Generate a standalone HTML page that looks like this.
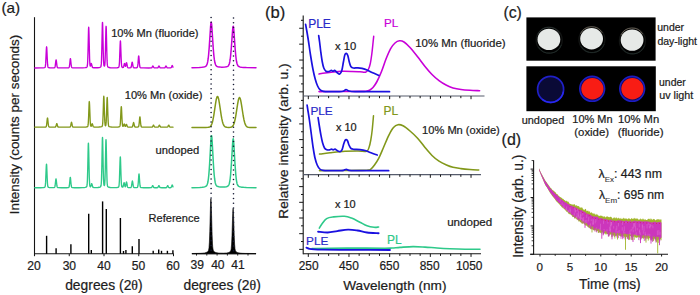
<!DOCTYPE html>
<html><head><meta charset="utf-8"><style>
html,body{margin:0;padding:0;background:#fff;width:700px;height:295px;overflow:hidden;}
svg{display:block;font-family:"Liberation Sans", sans-serif;}
</style></head><body>
<svg width="700" height="295" viewBox="0 0 700 295">
<rect width="700" height="295" fill="#fff"/>
<text id="pa" x="1.43" y="13.18" font-size="15.35" fill="#1c1c1c" stroke="#1c1c1c" stroke-width="0.22" text-anchor="start" >(a)</text>
<text id="yla" transform="translate(18.86,214.16) rotate(-90)" font-size="13.46" fill="#1c1c1c" stroke="#1c1c1c" stroke-width="0.22" >Intensity (counts per seconds)</text>
<line x1="34.5" y1="17.2" x2="34.5" y2="256" stroke="#151515" stroke-width="1.1" />
<line x1="34" y1="253.8" x2="173.8" y2="253.8" stroke="#151515" stroke-width="1.1" />
<line x1="34.5" y1="253.8" x2="34.5" y2="256.2" stroke="#151515" stroke-width="1.0" />
<text id="ta20" x="33.99" y="269.91" font-size="12.1" fill="#1c1c1c" stroke="#1c1c1c" stroke-width="0.22" text-anchor="middle" >20</text>
<line x1="69.25" y1="253.8" x2="69.25" y2="256.2" stroke="#151515" stroke-width="1.0" />
<text id="ta30" x="69.38" y="269.91" font-size="12.1" fill="#1c1c1c" stroke="#1c1c1c" stroke-width="0.22" text-anchor="middle" >30</text>
<line x1="104" y1="253.8" x2="104" y2="256.2" stroke="#151515" stroke-width="1.0" />
<text id="ta40" x="103.98" y="269.91" font-size="12.1" fill="#1c1c1c" stroke="#1c1c1c" stroke-width="0.22" text-anchor="middle" >40</text>
<line x1="138.75" y1="253.8" x2="138.75" y2="256.2" stroke="#151515" stroke-width="1.0" />
<text id="ta50" x="138.6" y="269.91" font-size="12.1" fill="#1c1c1c" stroke="#1c1c1c" stroke-width="0.22" text-anchor="middle" >50</text>
<line x1="173.5" y1="253.8" x2="173.5" y2="256.2" stroke="#151515" stroke-width="1.0" />
<text id="ta60" x="173.09" y="269.91" font-size="12.1" fill="#1c1c1c" stroke="#1c1c1c" stroke-width="0.22" text-anchor="middle" >60</text>
<text id="degL" x="103.9" y="290.3" font-size="13.85" fill="#1c1c1c" stroke="#1c1c1c" stroke-width="0.22" text-anchor="middle" >degrees (2<tspan font-family="Liberation Serif">θ</tspan>)</text>
<polyline points="34.8,67.98 40.6,67.95 43.2,67.85 44.6,67.63 44.9,67.47 45.1,67.22 45.4,66.15 45.7,63.15 46.3,50.14 46.5,47.19 46.6,46.79 46.7,47.19 46.8,48.35 47.3,59.5 47.6,64.45 47.9,66.65 48.1,67.21 48.4,67.53 48.8,67.68 49.5,67.79 51.8,67.9 54,67.83 54.4,67.76 54.7,67.58 55,66.99 55.2,66.12 55.8,61.15 56,60.02 56.1,59.87 56.2,60.02 56.4,61.15 57,66.12 57.3,67.27 57.6,67.68 57.9,67.8 58.6,67.88 61.5,67.95 66.8,67.92 68.1,67.85 68.7,67.75 68.9,67.64 69.1,67.39 69.4,66.43 69.7,64.26 70.2,59.36 70.3,58.85 70.4,58.68 70.5,58.85 70.6,59.36 71.1,64.25 71.4,66.43 71.7,67.39 72,67.7 72.7,67.85 74.5,67.93 82.7,67.88 85.3,67.7 86.1,67.52 86.7,67.26 86.9,67.08 87.1,66.75 87.3,66.03 87.5,64.42 87.7,61.16 88,51.65 88.5,30.23 88.6,28 88.7,27.22 88.8,27.99 89,33.65 89.6,58.58 89.8,62.92 89.9,64.25 90.1,65.69 90.2,65.99 90.3,66.09 90.4,66.04 90.5,65.86 91.1,63.74 91.2,63.56 91.3,63.51 91.4,63.62 91.6,64.22 92.2,66.78 92.5,67.38 92.8,67.6 93.3,67.71 94.5,67.79 97.6,67.75 99.3,67.55 99.9,67.39 100.4,67.15 100.8,66.73 101,66.18 101.1,65.7 101.3,63.9 101.5,60.25 101.8,49.63 102.3,25.7 102.4,23.2 102.5,22.33 102.6,23.18 102.7,25.65 103.2,49.44 103.5,59.97 103.8,64.56 104,65.67 104.2,66.07 104.4,66.09 104.5,65.98 104.7,65.37 104.9,63.83 105.1,60.59 105.4,51.01 105.9,29.33 106,27.08 106.1,26.3 106.2,27.11 106.3,29.39 106.8,51.22 107.1,60.91 107.3,64.23 107.5,65.88 107.8,66.82 108.2,67.21 109.1,67.54 110.4,67.73 112.7,67.84 115.5,67.84 117.1,67.75 118.1,67.58 118.6,67.36 118.9,66.95 119.2,65.6 119.5,61.78 120.1,45.21 120.3,41.45 120.4,40.93 120.5,41.44 120.6,42.92 121.1,57.12 121.4,63.42 121.7,66.21 121.9,66.92 122.1,67.23 122.3,67.37 122.7,67.49 123,67.49 123.2,67.41 123.4,67.2 123.7,66.44 124.3,63.87 124.4,63.63 124.5,63.55 124.6,63.63 124.7,63.85 125.2,65.87 125.4,66.3 125.5,66.32 125.6,66.19 125.8,65.55 126.3,63 126.4,62.72 126.5,62.63 126.6,62.74 126.8,63.47 127.4,66.69 127.6,67.26 127.8,67.56 128.1,67.73 128.7,67.81 130.1,67.82 130.7,67.71 131,67.42 131.3,66.6 131.9,63.05 132.1,62.24 132.2,62.13 132.3,62.24 132.5,63.05 133.1,66.61 133.3,67.23 133.5,67.56 133.9,67.78 134.9,67.85 136.4,67.79 136.8,67.73 137.1,67.6 137.4,67.2 137.7,65.96 138,63.16 138.5,56.85 138.6,56.2 138.7,55.97 138.8,56.2 138.9,56.86 139.4,63.17 139.7,65.97 140,67.22 140.2,67.54 140.5,67.72 141.5,67.87 143.4,67.94 148.8,67.97 151.3,67.92 151.6,67.85 151.9,67.65 152.2,67.18 152.7,66.13 152.9,65.98 153,66.02 153.2,66.3 153.8,67.52 154.2,67.85 155,67.95 157.4,67.92 157.7,67.85 158,67.65 158.3,67.18 158.8,66.13 159,65.98 159.1,66.02 159.3,66.3 159.9,67.53 160.3,67.86 161.3,67.95 164.3,67.93 164.7,67.86 165,67.65 165.3,67.18 165.8,66.13 166,65.98 166.1,66.02 166.3,66.3 166.9,67.53 167.3,67.86 168.1,67.95 170.4,67.93 170.9,67.83 171.2,67.57 171.5,66.99 172,65.67 172.2,65.49 172.3,65.54 172.5,65.89 173,67.23" fill="none" stroke="#c800d8" stroke-width="1.35" stroke-linejoin="round" stroke-linecap="round" />
<polyline points="34.8,127.19 43.9,127.14 45.4,127.05 45.8,126.97 46,126.86 46.3,126.4 46.6,125.09 47.2,119.45 47.4,118.17 47.5,117.99 47.6,118.17 47.7,118.67 48.2,123.51 48.5,125.66 48.8,126.61 49,126.86 49.3,126.99 50.4,127.11 52.6,127.15 54.7,127.12 55.4,127.01 55.7,126.75 55.9,126.36 56.5,124.15 56.7,123.65 56.8,123.58 56.9,123.65 57.1,124.15 57.7,126.36 58,126.87 58.3,127.05 59.4,127.15 63.1,127.18 68,127.16 69.8,127.06 70.2,126.88 70.5,126.37 70.8,125.22 71.3,122.65 71.4,122.38 71.5,122.28 71.6,122.38 71.7,122.65 72.2,125.22 72.5,126.37 72.8,126.87 73.1,127.04 73.9,127.12 75.7,127.16 83.5,127.12 86,127 86.8,126.88 87.3,126.73 87.7,126.41 87.9,125.96 88.1,124.95 88.3,122.9 88.6,116.92 89.1,103.44 89.2,102.04 89.3,101.55 89.4,102.03 89.6,105.59 90.2,121.28 90.5,124.88 90.6,125.46 90.8,126.09 91,126.26 91.1,126.24 91.3,126 92,123.95 92.2,123.74 92.3,123.82 92.5,124.28 93.1,126.3 93.4,126.77 93.7,126.94 94.2,127.02 95.4,127.07 98.8,127.04 100.6,126.89 101.7,126.62 102.1,126.33 102.4,125.63 102.6,124.41 102.8,121.95 103.1,114.76 103.6,98.57 103.7,96.88 103.8,96.29 103.9,96.86 104,98.53 104.5,114.6 104.8,121.7 105.1,124.78 105.3,125.5 105.5,125.7 105.7,125.52 105.9,124.84 106.2,121.89 106.5,115.07 107,99.64 107.1,98.03 107.2,97.48 107.3,98.05 107.4,99.68 107.9,115.24 108.2,122.14 108.4,124.51 108.6,125.69 108.9,126.36 109.3,126.64 110.2,126.87 111.5,127.01 113.7,127.08 116.5,127.07 118,127.01 119,126.88 119.5,126.71 119.8,126.4 120.1,125.38 120.4,122.47 121,109.89 121.2,107.03 121.3,106.64 121.4,107.03 121.5,108.15 122,118.92 122.3,123.69 122.6,125.78 122.7,126.09 122.9,126.37 123.1,126.37 123.3,126.14 124,124.25 124.2,124.06 124.4,124.28 125,126.05 125.2,126.36 125.3,126.4 125.4,126.38 125.6,126.13 126.2,124.56 126.4,124.37 126.5,124.43 126.7,124.81 127.3,126.49 127.5,126.79 127.7,126.94 128.2,127.06 129.6,127.11 131.4,127.08 132.1,126.99 132.4,126.76 132.7,126.1 133.3,123.28 133.5,122.64 133.6,122.55 133.7,122.64 133.9,123.28 134.5,126.1 134.7,126.59 134.9,126.86 135.3,127.03 136.3,127.07 137.7,127.01 138.3,126.87 138.6,126.52 138.9,125.46 139.2,123.05 139.7,117.64 139.8,117.07 139.9,116.88 140,117.07 140.1,117.64 140.6,123.06 140.9,125.46 141.2,126.53 141.4,126.81 141.7,126.96 142.7,127.09 144.7,127.15 150.1,127.17 152,127.11 152.3,127.01 152.6,126.73 153.2,125.5 153.4,125.22 153.5,125.18 153.6,125.22 153.8,125.5 154.4,126.73 154.8,127.06 155.6,127.15 157.8,127.12 158.1,127.06 158.4,126.85 158.7,126.39 159.2,125.33 159.4,125.19 159.5,125.23 159.7,125.5 160.3,126.73 160.5,126.95 160.8,127.09 162.6,127.17 167,127.14 167.4,127.07 167.7,126.86 168,126.39 168.5,125.34 168.7,125.19 168.8,125.23 169,125.51 169.6,126.74 170,127.07 170.6,127.16 173,127.19" fill="none" stroke="#82981a" stroke-width="1.35" stroke-linejoin="round" stroke-linecap="round" />
<polyline points="34.8,187.78 40.5,187.74 43.1,187.63 43.9,187.54 44.5,187.38 44.8,187.2 45,186.92 45.3,185.74 45.6,182.38 46.2,167.84 46.4,164.54 46.5,164.09 46.6,164.54 46.7,165.84 47.2,178.3 47.5,183.84 47.8,186.29 48,186.92 48.3,187.27 48.7,187.44 49.4,187.57 51.6,187.68 53.9,187.62 54.3,187.54 54.6,187.34 54.9,186.69 55.1,185.73 55.7,180.27 55.9,179.04 56,178.87 56.1,179.04 56.3,180.28 56.9,185.74 57.2,187 57.5,187.45 57.8,187.58 58.5,187.67 61.5,187.75 66.7,187.71 68,187.64 68.6,187.52 68.8,187.39 69,187.12 69.3,186.04 69.6,183.61 70.1,178.14 70.2,177.57 70.3,177.37 70.4,177.57 70.5,178.14 71,183.61 71.3,186.04 71.6,187.12 71.9,187.46 72.2,187.57 72.7,187.64 74.5,187.72 79,187.73 82.7,187.66 84.2,187.57 85.2,187.43 86,187.21 86.5,186.91 86.7,186.65 86.9,186.12 87.1,184.94 87.4,180.32 87.7,169.9 88.2,146.43 88.3,143.98 88.4,143.13 88.5,143.98 88.7,150.18 89.3,177.53 89.6,183.83 89.7,184.88 89.9,186.04 90.1,186.54 90.3,186.72 90.5,186.72 90.7,186.52 91,185.75 91.5,183.87 91.6,183.68 91.7,183.63 91.8,183.72 92,184.27 92.6,186.67 92.9,187.23 93.2,187.43 93.8,187.53 95,187.58 97.9,187.5 99.4,187.28 100,187.08 100.4,186.86 100.8,186.39 101,185.78 101.1,185.25 101.3,183.26 101.5,179.24 101.8,167.51 102.3,141.1 102.4,138.34 102.5,137.37 102.6,138.31 102.7,141.04 103.2,167.27 103.5,178.87 103.8,183.92 104,185.12 104.2,185.51 104.3,185.52 104.4,185.41 104.5,185.16 104.7,184.03 105,179.22 105.3,168.14 105.8,143.06 105.9,140.45 106,139.56 106.1,140.49 106.2,143.13 106.7,168.38 107,179.6 107.2,183.45 107.4,185.35 107.5,185.86 107.7,186.44 108.1,186.89 108.5,187.11 109,187.27 110.3,187.49 112.5,187.61 115.3,187.61 116.9,187.52 117.9,187.35 118.5,187.07 118.8,186.6 119.1,185.05 119.4,180.68 120,161.71 120.2,157.41 120.3,156.82 120.4,157.41 120.5,159.1 121,175.34 121.3,182.55 121.6,185.74 121.8,186.55 122,186.9 122.2,187.06 122.5,187.15 122.7,187.12 122.9,186.97 123.1,186.62 123.4,185.52 123.9,182.98 124,182.72 124.1,182.63 124.2,182.72 124.3,182.99 125,186.33 125.2,186.72 125.3,186.76 125.4,186.69 125.7,185.82 126.3,182.43 126.4,182.13 126.5,182.03 126.6,182.15 126.8,182.93 127.4,186.39 127.6,187 127.8,187.32 128.1,187.52 128.8,187.61 130.3,187.6 130.9,187.47 131.2,187.14 131.5,186.19 132.1,182.09 132.3,181.15 132.4,181.03 132.5,181.15 132.7,182.09 133.3,186.2 133.5,186.92 133.7,187.3 133.9,187.48 134.1,187.55 135.1,187.63 136.7,187.56 137.1,187.49 137.4,187.35 137.7,186.89 138,185.46 138.3,182.24 138.8,174.98 138.9,174.23 139,173.97 139.1,174.23 139.2,174.99 139.7,182.25 140,185.47 140.3,186.9 140.5,187.27 140.8,187.48 141.8,187.65 143.7,187.73 149.1,187.76 151.2,187.7 151.5,187.59 151.8,187.28 152.4,185.93 152.6,185.62 152.7,185.58 152.8,185.62 153,185.93 153.6,187.28 153.8,187.51 154,187.64 154.9,187.74 157.3,187.71 157.6,187.64 157.9,187.41 158.2,186.9 158.7,185.74 158.9,185.58 159,185.62 159.2,185.93 159.8,187.28 160,187.52 160.3,187.68 161.9,187.76 165.9,187.74 166.4,187.64 166.7,187.42 167,186.9 167.5,185.74 167.7,185.58 167.9,185.74 168.5,187.1 168.8,187.51 169,187.63 169.3,187.7 170.5,187.7 170.9,187.6 171.2,187.31 171.5,186.66 172,185.19 172.2,184.98 172.3,185.04 172.5,185.43 173,186.93" fill="none" stroke="#2ec98a" stroke-width="1.35" stroke-linejoin="round" stroke-linecap="round" />
<line x1="46.6" y1="253.8" x2="46.6" y2="235.8" stroke="#000" stroke-width="1.4" />
<line x1="56.1" y1="253.8" x2="56.1" y2="248.2" stroke="#000" stroke-width="1.4" />
<line x1="70.9" y1="253.8" x2="70.9" y2="244.2" stroke="#000" stroke-width="1.4" />
<line x1="88.7" y1="253.8" x2="88.7" y2="213.8" stroke="#000" stroke-width="1.4" />
<line x1="91.3" y1="253.8" x2="91.3" y2="250" stroke="#000" stroke-width="1.4" />
<line x1="102.6" y1="253.8" x2="102.6" y2="201.4" stroke="#000" stroke-width="1.4" />
<line x1="106.3" y1="253.8" x2="106.3" y2="209" stroke="#000" stroke-width="1.4" />
<line x1="120.4" y1="253.8" x2="120.4" y2="218" stroke="#000" stroke-width="1.4" />
<line x1="123.5" y1="253.8" x2="123.5" y2="251" stroke="#000" stroke-width="1.4" />
<line x1="125.9" y1="253.8" x2="125.9" y2="250" stroke="#000" stroke-width="1.4" />
<line x1="132.3" y1="253.8" x2="132.3" y2="246.3" stroke="#000" stroke-width="1.4" />
<line x1="139" y1="253.8" x2="139" y2="239" stroke="#000" stroke-width="1.4" />
<line x1="153.2" y1="253.8" x2="153.2" y2="250.8" stroke="#000" stroke-width="1.4" />
<line x1="158.7" y1="253.8" x2="158.7" y2="249.6" stroke="#000" stroke-width="1.4" />
<line x1="161.5" y1="253.8" x2="161.5" y2="250.8" stroke="#000" stroke-width="1.4" />
<line x1="167.4" y1="253.8" x2="167.4" y2="250.8" stroke="#000" stroke-width="1.4" />
<line x1="172.9" y1="253.8" x2="172.9" y2="250.2" stroke="#000" stroke-width="1.4" />
<text id="fla" x="111.23" y="37.27" font-size="11.07" fill="#1c1c1c" stroke="#1c1c1c" stroke-width="0.22" text-anchor="start" >10% Mn (fluoride)</text>
<text id="oxa" x="124.79" y="99.2" font-size="11.09" fill="#1c1c1c" stroke="#1c1c1c" stroke-width="0.22" text-anchor="start" >10% Mn (oxide)</text>
<text id="una" x="155.61" y="154.42" font-size="11.21" fill="#1c1c1c" stroke="#1c1c1c" stroke-width="0.22" text-anchor="start" >undoped</text>
<text id="ref" x="148.61" y="222.25" font-size="11.06" fill="#1c1c1c" stroke="#1c1c1c" stroke-width="0.22" text-anchor="start" >Reference</text>
<line x1="191.8" y1="253.7" x2="256" y2="253.7" stroke="#151515" stroke-width="1.1" />
<line x1="196.5" y1="253.7" x2="196.5" y2="255.6" stroke="#151515" stroke-width="0.9" />
<line x1="206.8" y1="253.7" x2="206.8" y2="255.6" stroke="#151515" stroke-width="0.9" />
<line x1="217.1" y1="253.7" x2="217.1" y2="255.6" stroke="#151515" stroke-width="0.9" />
<line x1="227.4" y1="253.7" x2="227.4" y2="255.6" stroke="#151515" stroke-width="0.9" />
<line x1="237.7" y1="253.7" x2="237.7" y2="255.6" stroke="#151515" stroke-width="0.9" />
<line x1="248" y1="253.7" x2="248" y2="255.6" stroke="#151515" stroke-width="0.9" />
<text id="tr39" x="197.2" y="268.99" font-size="12.1" fill="#1c1c1c" stroke="#1c1c1c" stroke-width="0.22" text-anchor="middle" >39</text>
<text id="tr40" x="217.86" y="268.99" font-size="12.1" fill="#1c1c1c" stroke="#1c1c1c" stroke-width="0.22" text-anchor="middle" >40</text>
<text id="tr41" x="238.06" y="268.99" font-size="12.1" fill="#1c1c1c" stroke="#1c1c1c" stroke-width="0.22" text-anchor="middle" >41</text>
<text id="degR" x="222.14" y="290.09" font-size="13.84" fill="#1c1c1c" stroke="#1c1c1c" stroke-width="0.22" text-anchor="middle" >degrees (2<tspan font-family="Liberation Serif">θ</tspan>)</text>
<polyline points="192,67.66 199.4,67.47 201.8,67.3 203.6,67.06 204.8,66.76 205.6,66.4 206.2,65.88 206.8,64.92 207.4,63.12 207.8,61.19 208.2,58.48 208.6,54.86 209.2,47.63 210.6,26.37 210.8,24.17 211,22.73 211.2,22.22 211.4,22.72 211.6,24.16 211.8,26.36 213.2,47.6 213.6,52.65 214,56.75 214.4,59.89 215,63.06 215.6,64.85 216.2,65.8 216.6,66.17 217.2,66.51 218,66.76 219,66.95 220.4,67.09 221.8,67.14 224.8,67.05 226.4,66.82 227,66.66 227.6,66.41 228,66.14 228.4,65.73 229,64.65 229.4,63.46 229.8,61.7 230.2,59.24 230.6,55.94 231.2,49.36 232.6,29.98 232.8,27.98 233,26.67 233.2,26.21 233.4,26.67 233.6,27.99 233.8,29.99 235.2,49.39 235.8,55.98 236.2,59.29 236.6,61.76 237,63.52 237.6,65.16 238.2,66.04 238.8,66.51 239.8,66.9 241.4,67.2 243.6,67.41 246.4,67.55 256,67.71" fill="none" stroke="#c800d8" stroke-width="1.5" stroke-linejoin="round" stroke-linecap="round" />
<polyline points="192,127.4 205.8,127.4 208,127.34 208.8,127.23 209.6,126.97 210.2,126.6 210.8,125.98 211.4,124.99 211.8,124.07 212.4,122.21 212.8,120.61 213.8,115.32 215.4,104.57 216,100.92 216.4,98.96 216.8,97.52 217.2,96.69 217.4,96.52 217.6,96.52 217.8,96.69 218,97.03 218.4,98.17 218.8,99.88 219.4,103.28 221.2,115.32 221.8,118.71 222.4,121.45 223,123.52 223.6,124.99 224.2,125.98 224.8,126.6 225.6,127.06 226.8,127.32 228.8,127.38 230.6,127.27 231.4,127.07 232.2,126.63 232.8,126.03 233.4,125.08 234,123.66 234.4,122.39 235.2,119.02 236,114.54 237.6,104.14 238.4,99.97 238.8,98.58 239,98.11 239.2,97.78 239.4,97.62 239.6,97.62 239.8,97.78 240.2,98.58 240.6,99.97 241,101.86 241.6,105.38 243.2,115.75 244,119.97 244.8,123.06 245.2,124.19 245.8,125.44 246.2,126.03 246.8,126.63 247.4,126.99 248.2,127.23 250,127.38 256,127.4" fill="none" stroke="#82981a" stroke-width="1.5" stroke-linejoin="round" stroke-linecap="round" />
<polyline points="192,187.66 199.8,187.44 202.2,187.25 204,186.97 205.2,186.65 206,186.24 206.6,185.67 207.2,184.59 207.6,183.36 208,181.49 208.4,178.78 208.8,175.03 209.2,170.12 209.6,164.04 211,139.12 211.2,136.87 211.4,135.67 211.6,135.66 211.8,136.87 212.2,142.12 213.4,164.01 213.8,170.08 214.2,174.99 214.6,178.73 215.2,182.45 215.4,183.29 215.8,184.51 216,184.95 216.4,185.58 216.8,185.99 217.4,186.36 218,186.59 219,186.82 220.2,186.97 221.6,187.06 223.2,187.06 224.6,186.98 226.4,186.72 227,186.55 227.6,186.28 228,186 228.4,185.58 228.8,184.92 229,184.46 229.4,183.18 229.8,181.27 230.2,178.51 230.6,174.74 231.4,163.93 232.6,143.51 232.8,141.02 233,139.38 233.2,138.8 233.4,139.38 233.6,141.02 233.8,143.52 235,163.96 235.8,174.78 236.2,178.56 236.6,181.33 237,183.26 237.2,183.97 237.6,185 238.2,185.91 238.8,186.4 239.8,186.81 241.4,187.14 243.6,187.37 246.4,187.52 256,187.7" fill="none" stroke="#2ec98a" stroke-width="1.5" stroke-linejoin="round" stroke-linecap="round" />
<polygon points="192,253.51 200.5,253.33 202.9,253.16 204.7,252.91 206.1,252.53 207.2,251.96 207.6,251.65 208,251.22 208.3,250.75 208.5,250.28 208.8,249.06 209,247.64 209.4,242.09 209.8,231.24 210.5,205.09 210.7,200.35 210.8,199.08 210.9,198.65 211,199.08 211.1,200.34 211.3,205.09 212.1,234.48 212.5,243.9 212.7,246.64 213,249.05 213.3,250.26 213.5,250.73 213.8,251.2 214.4,251.78 215.1,252.22 215.9,252.55 216.9,252.81 218.2,253.01 219.7,253.13 223.5,253.19 226.5,253 227.6,252.83 228.5,252.59 229.3,252.25 229.9,251.87 230.4,251.36 230.7,250.83 231,249.83 231.2,248.66 231.6,244.09 232,235.16 232.7,213.64 232.9,209.74 233,208.7 233.1,208.34 233.2,208.7 233.3,209.74 233.5,213.64 234.2,235.17 234.6,244.11 235,248.68 235.3,250.26 235.6,251.06 235.9,251.52 236.2,251.82 237.1,252.39 238.3,252.82 240,253.12 242.1,253.3 245.1,253.42 256,253.54 256,253.8 192,253.8" fill="#000" stroke="#000" stroke-width="0.6"/>
<circle cx="211.1" cy="17.5" r="0.82" fill="#161a34"/>
<circle cx="211.1" cy="22.25" r="0.82" fill="#161a34"/>
<circle cx="211.1" cy="27" r="0.82" fill="#161a34"/>
<circle cx="211.1" cy="31.75" r="0.82" fill="#161a34"/>
<circle cx="211.1" cy="36.5" r="0.82" fill="#161a34"/>
<circle cx="211.1" cy="41.25" r="0.82" fill="#161a34"/>
<circle cx="211.1" cy="46" r="0.82" fill="#161a34"/>
<circle cx="211.1" cy="50.75" r="0.82" fill="#161a34"/>
<circle cx="211.1" cy="55.5" r="0.82" fill="#161a34"/>
<circle cx="211.1" cy="60.25" r="0.82" fill="#161a34"/>
<circle cx="211.1" cy="65" r="0.82" fill="#161a34"/>
<circle cx="211.1" cy="69.75" r="0.82" fill="#161a34"/>
<circle cx="211.1" cy="74.5" r="0.82" fill="#161a34"/>
<circle cx="211.1" cy="79.25" r="0.82" fill="#161a34"/>
<circle cx="211.1" cy="84" r="0.82" fill="#161a34"/>
<circle cx="211.1" cy="88.75" r="0.82" fill="#161a34"/>
<circle cx="211.1" cy="93.5" r="0.82" fill="#161a34"/>
<circle cx="211.1" cy="98.25" r="0.82" fill="#161a34"/>
<circle cx="211.1" cy="103" r="0.82" fill="#161a34"/>
<circle cx="211.1" cy="107.75" r="0.82" fill="#161a34"/>
<circle cx="211.1" cy="112.5" r="0.82" fill="#161a34"/>
<circle cx="211.1" cy="117.25" r="0.82" fill="#161a34"/>
<circle cx="211.1" cy="122" r="0.82" fill="#161a34"/>
<circle cx="211.1" cy="126.75" r="0.82" fill="#161a34"/>
<circle cx="211.1" cy="131.5" r="0.82" fill="#161a34"/>
<circle cx="211.1" cy="136.25" r="0.82" fill="#161a34"/>
<circle cx="211.1" cy="141" r="0.82" fill="#161a34"/>
<circle cx="211.1" cy="145.75" r="0.82" fill="#161a34"/>
<circle cx="211.1" cy="150.5" r="0.82" fill="#161a34"/>
<circle cx="211.1" cy="155.25" r="0.82" fill="#161a34"/>
<circle cx="211.1" cy="160" r="0.82" fill="#161a34"/>
<circle cx="211.1" cy="164.75" r="0.82" fill="#161a34"/>
<circle cx="211.1" cy="169.5" r="0.82" fill="#161a34"/>
<circle cx="211.1" cy="174.25" r="0.82" fill="#161a34"/>
<circle cx="211.1" cy="179" r="0.82" fill="#161a34"/>
<circle cx="211.1" cy="183.75" r="0.82" fill="#161a34"/>
<circle cx="211.1" cy="188.5" r="0.82" fill="#161a34"/>
<circle cx="211.1" cy="193.25" r="0.82" fill="#161a34"/>
<circle cx="211.1" cy="198" r="0.82" fill="#161a34"/>
<circle cx="211.1" cy="202.75" r="0.82" fill="#161a34"/>
<circle cx="211.1" cy="207.5" r="0.82" fill="#161a34"/>
<circle cx="211.1" cy="212.25" r="0.82" fill="#161a34"/>
<circle cx="211.1" cy="217" r="0.82" fill="#161a34"/>
<circle cx="211.1" cy="221.75" r="0.82" fill="#161a34"/>
<circle cx="211.1" cy="226.5" r="0.82" fill="#161a34"/>
<circle cx="211.1" cy="231.25" r="0.82" fill="#161a34"/>
<circle cx="211.1" cy="236" r="0.82" fill="#161a34"/>
<circle cx="211.1" cy="240.75" r="0.82" fill="#161a34"/>
<circle cx="211.1" cy="245.5" r="0.82" fill="#161a34"/>
<circle cx="211.1" cy="250.25" r="0.82" fill="#161a34"/>
<circle cx="233.5" cy="18" r="0.82" fill="#161a34"/>
<circle cx="233.5" cy="22.75" r="0.82" fill="#161a34"/>
<circle cx="233.5" cy="27.5" r="0.82" fill="#161a34"/>
<circle cx="233.5" cy="32.25" r="0.82" fill="#161a34"/>
<circle cx="233.5" cy="37" r="0.82" fill="#161a34"/>
<circle cx="233.5" cy="41.75" r="0.82" fill="#161a34"/>
<circle cx="233.5" cy="46.5" r="0.82" fill="#161a34"/>
<circle cx="233.5" cy="51.25" r="0.82" fill="#161a34"/>
<circle cx="233.5" cy="56" r="0.82" fill="#161a34"/>
<circle cx="233.5" cy="60.75" r="0.82" fill="#161a34"/>
<circle cx="233.5" cy="65.5" r="0.82" fill="#161a34"/>
<circle cx="233.5" cy="70.25" r="0.82" fill="#161a34"/>
<circle cx="233.5" cy="75" r="0.82" fill="#161a34"/>
<circle cx="233.5" cy="79.75" r="0.82" fill="#161a34"/>
<circle cx="233.5" cy="84.5" r="0.82" fill="#161a34"/>
<circle cx="233.5" cy="89.25" r="0.82" fill="#161a34"/>
<circle cx="233.5" cy="94" r="0.82" fill="#161a34"/>
<circle cx="233.5" cy="98.75" r="0.82" fill="#161a34"/>
<circle cx="233.5" cy="103.5" r="0.82" fill="#161a34"/>
<circle cx="233.5" cy="108.25" r="0.82" fill="#161a34"/>
<circle cx="233.5" cy="113" r="0.82" fill="#161a34"/>
<circle cx="233.5" cy="117.75" r="0.82" fill="#161a34"/>
<circle cx="233.5" cy="122.5" r="0.82" fill="#161a34"/>
<circle cx="233.5" cy="127.25" r="0.82" fill="#161a34"/>
<circle cx="233.5" cy="132" r="0.82" fill="#161a34"/>
<circle cx="233.5" cy="136.75" r="0.82" fill="#161a34"/>
<circle cx="233.5" cy="141.5" r="0.82" fill="#161a34"/>
<circle cx="233.5" cy="146.25" r="0.82" fill="#161a34"/>
<circle cx="233.5" cy="151" r="0.82" fill="#161a34"/>
<circle cx="233.5" cy="155.75" r="0.82" fill="#161a34"/>
<circle cx="233.5" cy="160.5" r="0.82" fill="#161a34"/>
<circle cx="233.5" cy="165.25" r="0.82" fill="#161a34"/>
<circle cx="233.5" cy="170" r="0.82" fill="#161a34"/>
<circle cx="233.5" cy="174.75" r="0.82" fill="#161a34"/>
<circle cx="233.5" cy="179.5" r="0.82" fill="#161a34"/>
<circle cx="233.5" cy="184.25" r="0.82" fill="#161a34"/>
<circle cx="233.5" cy="189" r="0.82" fill="#161a34"/>
<circle cx="233.5" cy="193.75" r="0.82" fill="#161a34"/>
<circle cx="233.5" cy="198.5" r="0.82" fill="#161a34"/>
<circle cx="233.5" cy="203.25" r="0.82" fill="#161a34"/>
<circle cx="233.5" cy="208" r="0.82" fill="#161a34"/>
<circle cx="233.5" cy="212.75" r="0.82" fill="#161a34"/>
<circle cx="233.5" cy="217.5" r="0.82" fill="#161a34"/>
<circle cx="233.5" cy="222.25" r="0.82" fill="#161a34"/>
<circle cx="233.5" cy="227" r="0.82" fill="#161a34"/>
<circle cx="233.5" cy="231.75" r="0.82" fill="#161a34"/>
<circle cx="233.5" cy="236.5" r="0.82" fill="#161a34"/>
<circle cx="233.5" cy="241.25" r="0.82" fill="#161a34"/>
<circle cx="233.5" cy="246" r="0.82" fill="#161a34"/>
<circle cx="233.5" cy="250.75" r="0.82" fill="#161a34"/>
<text id="pb" x="264.95" y="17.67" font-size="16.58" fill="#1c1c1c" stroke="#1c1c1c" stroke-width="0.22" text-anchor="start" >(b)</text>
<text id="ylb" transform="translate(288.4,218.75) rotate(-90)" font-size="13.69" fill="#1c1c1c" stroke="#1c1c1c" stroke-width="0.22" >Relative intensity (arb. u.)</text>
<line x1="303.2" y1="15.5" x2="303.2" y2="254.2" stroke="#151515" stroke-width="1.1" />
<line x1="301" y1="20.3" x2="303.2" y2="20.3" stroke="#151515" stroke-width="1.0" />
<line x1="299.2" y1="28.25" x2="303.2" y2="28.25" stroke="#151515" stroke-width="1.0" />
<line x1="301" y1="36.2" x2="303.2" y2="36.2" stroke="#151515" stroke-width="1.0" />
<line x1="299.2" y1="44.15" x2="303.2" y2="44.15" stroke="#151515" stroke-width="1.0" />
<line x1="301" y1="52.1" x2="303.2" y2="52.1" stroke="#151515" stroke-width="1.0" />
<line x1="299.2" y1="60.05" x2="303.2" y2="60.05" stroke="#151515" stroke-width="1.0" />
<line x1="301" y1="68" x2="303.2" y2="68" stroke="#151515" stroke-width="1.0" />
<line x1="299.2" y1="75.95" x2="303.2" y2="75.95" stroke="#151515" stroke-width="1.0" />
<line x1="301" y1="83.9" x2="303.2" y2="83.9" stroke="#151515" stroke-width="1.0" />
<line x1="299.2" y1="91.85" x2="303.2" y2="91.85" stroke="#151515" stroke-width="1.0" />
<line x1="301" y1="100.4" x2="303.2" y2="100.4" stroke="#151515" stroke-width="1.0" />
<line x1="299.2" y1="108.24" x2="303.2" y2="108.24" stroke="#151515" stroke-width="1.0" />
<line x1="301" y1="116.08" x2="303.2" y2="116.08" stroke="#151515" stroke-width="1.0" />
<line x1="299.2" y1="123.92" x2="303.2" y2="123.92" stroke="#151515" stroke-width="1.0" />
<line x1="301" y1="131.76" x2="303.2" y2="131.76" stroke="#151515" stroke-width="1.0" />
<line x1="299.2" y1="139.6" x2="303.2" y2="139.6" stroke="#151515" stroke-width="1.0" />
<line x1="301" y1="147.44" x2="303.2" y2="147.44" stroke="#151515" stroke-width="1.0" />
<line x1="299.2" y1="155.28" x2="303.2" y2="155.28" stroke="#151515" stroke-width="1.0" />
<line x1="301" y1="163.12" x2="303.2" y2="163.12" stroke="#151515" stroke-width="1.0" />
<line x1="299.2" y1="170.96" x2="303.2" y2="170.96" stroke="#151515" stroke-width="1.0" />
<line x1="301" y1="178.8" x2="303.2" y2="178.8" stroke="#151515" stroke-width="1.0" />
<line x1="299.2" y1="186.64" x2="303.2" y2="186.64" stroke="#151515" stroke-width="1.0" />
<line x1="301" y1="194.48" x2="303.2" y2="194.48" stroke="#151515" stroke-width="1.0" />
<line x1="299.2" y1="202.32" x2="303.2" y2="202.32" stroke="#151515" stroke-width="1.0" />
<line x1="301" y1="210.16" x2="303.2" y2="210.16" stroke="#151515" stroke-width="1.0" />
<line x1="299.2" y1="218" x2="303.2" y2="218" stroke="#151515" stroke-width="1.0" />
<line x1="301" y1="225.84" x2="303.2" y2="225.84" stroke="#151515" stroke-width="1.0" />
<line x1="299.2" y1="233.68" x2="303.2" y2="233.68" stroke="#151515" stroke-width="1.0" />
<line x1="301" y1="241.52" x2="303.2" y2="241.52" stroke="#151515" stroke-width="1.0" />
<line x1="299.2" y1="249.36" x2="303.2" y2="249.36" stroke="#151515" stroke-width="1.0" />
<line x1="303.2" y1="96" x2="484.5" y2="96" stroke="#565c6c" stroke-width="1.1" />
<line x1="308.3" y1="96" x2="308.3" y2="99.2" stroke="#151515" stroke-width="1.0" />
<line x1="318.47" y1="96" x2="318.47" y2="98.2" stroke="#151515" stroke-width="1.0" />
<line x1="328.64" y1="96" x2="328.64" y2="98.2" stroke="#151515" stroke-width="1.0" />
<line x1="338.81" y1="96" x2="338.81" y2="98.2" stroke="#151515" stroke-width="1.0" />
<line x1="348.98" y1="96" x2="348.98" y2="99.2" stroke="#151515" stroke-width="1.0" />
<line x1="359.15" y1="96" x2="359.15" y2="98.2" stroke="#151515" stroke-width="1.0" />
<line x1="369.32" y1="96" x2="369.32" y2="98.2" stroke="#151515" stroke-width="1.0" />
<line x1="379.49" y1="96" x2="379.49" y2="98.2" stroke="#151515" stroke-width="1.0" />
<line x1="389.66" y1="96" x2="389.66" y2="99.2" stroke="#151515" stroke-width="1.0" />
<line x1="399.83" y1="96" x2="399.83" y2="98.2" stroke="#151515" stroke-width="1.0" />
<line x1="410" y1="96" x2="410" y2="98.2" stroke="#151515" stroke-width="1.0" />
<line x1="420.17" y1="96" x2="420.17" y2="98.2" stroke="#151515" stroke-width="1.0" />
<line x1="430.34" y1="96" x2="430.34" y2="99.2" stroke="#151515" stroke-width="1.0" />
<line x1="440.51" y1="96" x2="440.51" y2="98.2" stroke="#151515" stroke-width="1.0" />
<line x1="450.68" y1="96" x2="450.68" y2="98.2" stroke="#151515" stroke-width="1.0" />
<line x1="460.85" y1="96" x2="460.85" y2="98.2" stroke="#151515" stroke-width="1.0" />
<line x1="471.02" y1="96" x2="471.02" y2="99.2" stroke="#151515" stroke-width="1.0" />
<line x1="303.2" y1="174.6" x2="481" y2="174.6" stroke="#565c6c" stroke-width="1.1" />
<line x1="308.3" y1="174.6" x2="308.3" y2="177.8" stroke="#151515" stroke-width="1.0" />
<line x1="318.47" y1="174.6" x2="318.47" y2="176.8" stroke="#151515" stroke-width="1.0" />
<line x1="328.64" y1="174.6" x2="328.64" y2="176.8" stroke="#151515" stroke-width="1.0" />
<line x1="338.81" y1="174.6" x2="338.81" y2="176.8" stroke="#151515" stroke-width="1.0" />
<line x1="348.98" y1="174.6" x2="348.98" y2="177.8" stroke="#151515" stroke-width="1.0" />
<line x1="359.15" y1="174.6" x2="359.15" y2="176.8" stroke="#151515" stroke-width="1.0" />
<line x1="369.32" y1="174.6" x2="369.32" y2="176.8" stroke="#151515" stroke-width="1.0" />
<line x1="379.49" y1="174.6" x2="379.49" y2="176.8" stroke="#151515" stroke-width="1.0" />
<line x1="389.66" y1="174.6" x2="389.66" y2="177.8" stroke="#151515" stroke-width="1.0" />
<line x1="399.83" y1="174.6" x2="399.83" y2="176.8" stroke="#151515" stroke-width="1.0" />
<line x1="410" y1="174.6" x2="410" y2="176.8" stroke="#151515" stroke-width="1.0" />
<line x1="420.17" y1="174.6" x2="420.17" y2="176.8" stroke="#151515" stroke-width="1.0" />
<line x1="430.34" y1="174.6" x2="430.34" y2="177.8" stroke="#151515" stroke-width="1.0" />
<line x1="440.51" y1="174.6" x2="440.51" y2="176.8" stroke="#151515" stroke-width="1.0" />
<line x1="450.68" y1="174.6" x2="450.68" y2="176.8" stroke="#151515" stroke-width="1.0" />
<line x1="460.85" y1="174.6" x2="460.85" y2="176.8" stroke="#151515" stroke-width="1.0" />
<line x1="471.02" y1="174.6" x2="471.02" y2="177.8" stroke="#151515" stroke-width="1.0" />
<line x1="303.2" y1="253.7" x2="481" y2="253.7" stroke="#151515" stroke-width="1.1" />
<line x1="308.3" y1="253.7" x2="308.3" y2="256.9" stroke="#151515" stroke-width="1.0" />
<line x1="318.47" y1="253.7" x2="318.47" y2="255.9" stroke="#151515" stroke-width="1.0" />
<line x1="328.64" y1="253.7" x2="328.64" y2="255.9" stroke="#151515" stroke-width="1.0" />
<line x1="338.81" y1="253.7" x2="338.81" y2="255.9" stroke="#151515" stroke-width="1.0" />
<line x1="348.98" y1="253.7" x2="348.98" y2="256.9" stroke="#151515" stroke-width="1.0" />
<line x1="359.15" y1="253.7" x2="359.15" y2="255.9" stroke="#151515" stroke-width="1.0" />
<line x1="369.32" y1="253.7" x2="369.32" y2="255.9" stroke="#151515" stroke-width="1.0" />
<line x1="379.49" y1="253.7" x2="379.49" y2="255.9" stroke="#151515" stroke-width="1.0" />
<line x1="389.66" y1="253.7" x2="389.66" y2="256.9" stroke="#151515" stroke-width="1.0" />
<line x1="399.83" y1="253.7" x2="399.83" y2="255.9" stroke="#151515" stroke-width="1.0" />
<line x1="410" y1="253.7" x2="410" y2="255.9" stroke="#151515" stroke-width="1.0" />
<line x1="420.17" y1="253.7" x2="420.17" y2="255.9" stroke="#151515" stroke-width="1.0" />
<line x1="430.34" y1="253.7" x2="430.34" y2="256.9" stroke="#151515" stroke-width="1.0" />
<line x1="440.51" y1="253.7" x2="440.51" y2="255.9" stroke="#151515" stroke-width="1.0" />
<line x1="450.68" y1="253.7" x2="450.68" y2="255.9" stroke="#151515" stroke-width="1.0" />
<line x1="460.85" y1="253.7" x2="460.85" y2="255.9" stroke="#151515" stroke-width="1.0" />
<line x1="471.02" y1="253.7" x2="471.02" y2="256.9" stroke="#151515" stroke-width="1.0" />
<text id="tb250" x="308.59" y="270.28" font-size="11.9" fill="#1c1c1c" stroke="#1c1c1c" stroke-width="0.22" text-anchor="middle" >250</text>
<text id="tb450" x="348.85" y="270.28" font-size="11.9" fill="#1c1c1c" stroke="#1c1c1c" stroke-width="0.22" text-anchor="middle" >450</text>
<text id="tb650" x="389.36" y="270.28" font-size="11.9" fill="#1c1c1c" stroke="#1c1c1c" stroke-width="0.22" text-anchor="middle" >650</text>
<text id="tb850" x="429.6" y="270.28" font-size="11.9" fill="#1c1c1c" stroke="#1c1c1c" stroke-width="0.22" text-anchor="middle" >850</text>
<text id="tb1050" x="469.18" y="270.28" font-size="11.9" fill="#1c1c1c" stroke="#1c1c1c" stroke-width="0.22" text-anchor="middle" >1050</text>
<text id="wave" x="394.89" y="289.62" font-size="13.64" fill="#1c1c1c" stroke="#1c1c1c" stroke-width="0.22" text-anchor="middle" >Wavelength (nm)</text>
<path d="M319,91.6 C322.5,91.58 333.17,91.53 340,91.5 C346.83,91.47 355.67,91.45 360,91.4 C364.33,91.35 364.42,91.4 366,91.2 C367.58,91 368.33,90.82 369.5,90.2 C370.67,89.58 371.75,88.95 373,87.5 C374.25,86.05 375.58,84.17 377,81.5 C378.42,78.83 380,75.25 381.5,71.5 C383,67.75 384.5,62.78 386,59 C387.5,55.22 389,51.47 390.5,48.8 C392,46.13 393.5,44.33 395,43 C396.5,41.67 398,40.97 399.5,40.8 C401,40.63 402.25,40.88 404,42 C405.75,43.12 407.73,45.03 410,47.5 C412.27,49.97 415.1,53.63 417.6,56.8 C420.1,59.97 422.6,63.55 425,66.5 C427.4,69.45 429.67,72.15 432,74.5 C434.33,76.85 436.58,78.8 439,80.6 C441.42,82.4 444.17,84.08 446.5,85.3 C448.83,86.52 450.58,87.2 453,87.9 C455.42,88.6 458.17,89.1 461,89.5 C463.83,89.9 466.9,90.1 470,90.3 C473.1,90.5 478,90.63 479.6,90.7" fill="none" stroke="#c800d8" stroke-width="1.6" stroke-linejoin="round" stroke-linecap="round" />
<path d="M319,74 C320,73.83 322.67,73.33 325,73 C327.33,72.67 330.17,72.28 333,72 C335.83,71.72 338.83,71.4 342,71.3 C345.17,71.2 349,71.32 352,71.4 C355,71.48 357.75,71.67 360,71.8 C362.25,71.93 364.12,72.58 365.5,72.2 C366.88,71.82 367.5,70.95 368.3,69.5 C369.1,68.05 369.72,66.08 370.3,63.5 C370.88,60.92 371.37,57.25 371.8,54 C372.23,50.75 372.58,46.95 372.9,44 C373.22,41.05 373.57,37.58 373.7,36.3" fill="none" stroke="#c800d8" stroke-width="1.5" stroke-linejoin="round" stroke-linecap="round" />
<path d="M305.6,24.3 C305.8,25.42 306.35,28.38 306.8,31 C307.25,33.62 307.68,36 308.3,40 C308.92,44 309.73,50.17 310.5,55 C311.27,59.83 312.12,65 312.9,69 C313.68,73 314.42,76.17 315.2,79 C315.98,81.83 316.77,84.18 317.6,86 C318.43,87.82 319.22,89.02 320.2,89.9 C321.18,90.78 321.87,91.02 323.5,91.3 C325.13,91.58 327.58,91.55 330,91.6 C332.42,91.65 335.83,91.65 338,91.6 C340.17,91.55 341.67,91.63 343,91.3 C344.33,90.97 345,89.65 346,89.6 C347,89.55 347.5,90.67 349,91 C350.5,91.33 351.17,91.48 355,91.6 C358.83,91.72 366.25,91.68 372,91.7 C377.75,91.72 386.58,91.7 389.5,91.7" fill="none" stroke="#1a10e0" stroke-width="1.7" stroke-linejoin="round" stroke-linecap="round" />
<path d="M318.7,35.7 C318.85,36.75 319.25,39.28 319.6,42 C319.95,44.72 320.37,48.75 320.8,52 C321.23,55.25 321.7,58.83 322.2,61.5 C322.7,64.17 323.17,66.38 323.8,68 C324.43,69.62 325.13,70.62 326,71.2 C326.87,71.78 328.12,71.63 329,71.5 C329.88,71.37 330.63,70.45 331.3,70.4 C331.97,70.35 332.43,71.2 333,71.2 C333.57,71.2 334.03,70.18 334.7,70.4 C335.37,70.62 336.15,71.9 337,72.5 C337.85,73.1 339,74.33 339.8,74 C340.6,73.67 341.2,72.5 341.8,70.5 C342.4,68.5 342.9,64.58 343.4,62 C343.9,59.42 344.32,56.45 344.8,55 C345.28,53.55 345.8,53.22 346.3,53.3 C346.8,53.38 347.3,54.05 347.8,55.5 C348.3,56.95 348.77,60.12 349.3,62 C349.83,63.88 350.3,65.8 351,66.8 C351.7,67.8 352.33,67.83 353.5,68 C354.67,68.17 356.58,67.73 358,67.8 C359.42,67.87 360.5,68.03 362,68.4 C363.5,68.77 365.33,69.3 367,70 C368.67,70.7 370.03,71.7 372,72.6 C373.97,73.5 377.67,74.93 378.8,75.4" fill="none" stroke="#1a10e0" stroke-width="1.7" stroke-linejoin="round" stroke-linecap="round" />
<path d="M319.5,170.6 C322.92,170.58 333.25,170.53 340,170.5 C346.75,170.47 355.5,170.45 360,170.4 C364.5,170.35 365.23,170.37 367,170.2 C368.77,170.03 369.35,170.27 370.6,169.4 C371.85,168.53 373.15,166.83 374.5,165 C375.85,163.17 377.2,161.32 378.7,158.4 C380.2,155.48 381.82,151.35 383.5,147.5 C385.18,143.65 387.13,138.63 388.8,135.3 C390.47,131.97 391.97,129.27 393.5,127.5 C395.03,125.73 396.42,124.98 398,124.7 C399.58,124.42 401,124.75 403,125.8 C405,126.85 407.57,128.93 410,131 C412.43,133.07 415.1,135.45 417.6,138.2 C420.1,140.95 422.6,144.62 425,147.5 C427.4,150.38 429.67,153.22 432,155.5 C434.33,157.78 436.58,159.62 439,161.2 C441.42,162.78 444.17,163.98 446.5,165 C448.83,166.02 450.6,166.7 453,167.3 C455.4,167.9 458.07,168.23 460.9,168.6 C463.73,168.97 467.03,169.27 470,169.5 C472.97,169.73 477.25,169.92 478.7,170" fill="none" stroke="#82981a" stroke-width="1.6" stroke-linejoin="round" stroke-linecap="round" />
<path d="M319.5,154.1 C321.25,153.88 325.75,153.27 330,152.8 C334.25,152.33 340.33,151.6 345,151.3 C349.67,151 354.42,151.02 358,151 C361.58,150.98 364.67,151.78 366.5,151.2 C368.33,150.62 368.28,149.37 369,147.5 C369.72,145.63 370.27,142.92 370.8,140 C371.33,137.08 371.75,134.03 372.2,130 C372.65,125.97 373.28,118.17 373.5,115.8" fill="none" stroke="#82981a" stroke-width="1.5" stroke-linejoin="round" stroke-linecap="round" />
<path d="M307.1,105.1 C307.25,106.08 307.62,108.52 308,111 C308.38,113.48 308.85,116.17 309.4,120 C309.95,123.83 310.67,129.33 311.3,134 C311.93,138.67 312.58,144 313.2,148 C313.82,152 314.33,155.17 315,158 C315.67,160.83 316.4,163.17 317.2,165 C318,166.83 318.83,168.1 319.8,169 C320.77,169.9 321.13,170.13 323,170.4 C324.87,170.67 328.17,170.57 331,170.6 C333.83,170.63 337.92,170.63 340,170.6 C342.08,170.57 342.45,170.62 343.5,170.4 C344.55,170.18 345.38,169.32 346.3,169.3 C347.22,169.28 347.55,170.08 349,170.3 C350.45,170.52 351.17,170.53 355,170.6 C358.83,170.67 366.38,170.68 372,170.7 C377.62,170.72 385.92,170.7 388.7,170.7" fill="none" stroke="#1a10e0" stroke-width="1.7" stroke-linejoin="round" stroke-linecap="round" />
<path d="M318.1,117.5 C318.28,118.75 318.75,122.17 319.2,125 C319.65,127.83 320.25,131.58 320.8,134.5 C321.35,137.42 321.88,140.25 322.5,142.5 C323.12,144.75 323.78,146.78 324.5,148 C325.22,149.22 325.97,149.48 326.8,149.8 C327.63,150.12 328.72,150 329.5,149.9 C330.28,149.8 330.88,149.2 331.5,149.2 C332.12,149.2 332.62,149.9 333.2,149.9 C333.78,149.9 334.32,149.08 335,149.2 C335.68,149.32 336.47,150.2 337.3,150.6 C338.13,151 339.22,151.73 340,151.6 C340.78,151.47 341.38,151.07 342,149.8 C342.62,148.53 343.2,145.55 343.7,144 C344.2,142.45 344.57,141.22 345,140.5 C345.43,139.78 345.87,139.62 346.3,139.7 C346.73,139.78 347.12,140.03 347.6,141 C348.08,141.97 348.63,144.25 349.2,145.5 C349.77,146.75 350.2,147.87 351,148.5 C351.8,149.13 352.5,149.12 354,149.3 C355.5,149.48 358,149.35 360,149.6 C362,149.85 364.17,150.27 366,150.8 C367.83,151.33 369.13,152.1 371,152.8 C372.87,153.5 376.17,154.63 377.2,155" fill="none" stroke="#1a10e0" stroke-width="1.7" stroke-linejoin="round" stroke-linecap="round" />
<path d="M312,248.6 C315,248.53 322,248.28 330,248.2 C338,248.12 350.83,248.1 360,248.1 C369.17,248.1 379.67,248.22 385,248.2 C390.33,248.18 389.5,248.13 392,248 C394.5,247.87 396.5,247.63 400,247.4 C403.5,247.17 408.83,246.65 413,246.6 C417.17,246.55 421,246.87 425,247.1 C429,247.33 432.83,247.73 437,248 C441.17,248.27 445.33,248.5 450,248.7 C454.67,248.9 460,249.1 465,249.2 C470,249.3 477.5,249.28 480,249.3" fill="none" stroke="#2ec98a" stroke-width="1.6" stroke-linejoin="round" stroke-linecap="round" />
<path d="M306.4,247.6 C306.92,247.8 308.18,248.5 309.5,248.8 C310.82,249.1 312.22,249.25 314.3,249.4 C316.38,249.55 317.72,249.63 322,249.7 C326.28,249.77 332,249.77 340,249.8 C348,249.83 361.67,249.87 370,249.9 C378.33,249.93 386.67,249.98 390,250" fill="none" stroke="#1a10e0" stroke-width="1.8" stroke-linejoin="round" stroke-linecap="round" />
<path d="M319.3,228.1 C319.73,227.42 320.68,225.58 321.9,224 C323.12,222.42 324.63,219.78 326.6,218.6 C328.57,217.42 330.73,217.28 333.7,216.9 C336.67,216.52 341.43,216.1 344.4,216.3 C347.37,216.5 348.92,217.12 351.5,218.1 C354.08,219.08 357.32,220.92 359.9,222.2 C362.48,223.48 364.63,224.95 367,225.8 C369.37,226.65 372.17,227.1 374.1,227.3 C376.03,227.5 377.85,227.05 378.6,227" fill="none" stroke="#2ec98a" stroke-width="1.6" stroke-linejoin="round" stroke-linecap="round" />
<path d="M318.1,231.7 C319.72,231.83 324.6,232.6 327.8,232.5 C331,232.4 333.93,231.58 337.3,231.1 C340.67,230.62 344.63,229.7 348,229.6 C351.37,229.5 354.33,230.02 357.5,230.5 C360.67,230.98 363.48,232.05 367,232.5 C370.52,232.95 376.67,233.08 378.6,233.2" fill="none" stroke="#1a10e0" stroke-width="1.9" stroke-linejoin="round" stroke-linecap="round" />
<text id="ple1" x="308.13" y="28.29" font-size="12.04" fill="#2a2ac8" stroke="#2a2ac8" stroke-width="0.22" text-anchor="start" >PLE</text>
<text id="pl1" x="384.08" y="26.74" font-size="11.58" fill="#c800d8" stroke="#c800d8" stroke-width="0.22" text-anchor="start" >PL</text>
<text id="x1" x="334.98" y="49.92" font-size="11.24" fill="#1c1c1c" stroke="#1c1c1c" stroke-width="0.22" text-anchor="start" >x 10</text>
<text id="flb" x="415.14" y="47.21" font-size="11.47" fill="#1c1c1c" stroke="#1c1c1c" stroke-width="0.22" text-anchor="start" >10% Mn (fluoride)</text>
<text id="ple2" x="310.45" y="115.18" font-size="11.81" fill="#2a2ac8" stroke="#2a2ac8" stroke-width="0.22" text-anchor="start" >PLE</text>
<text id="pl2" x="383.43" y="114.57" font-size="11.99" fill="#82981a" stroke="#82981a" stroke-width="0.22" text-anchor="start" >PL</text>
<text id="x2" x="335.91" y="130.74" font-size="11.01" fill="#1c1c1c" stroke="#1c1c1c" stroke-width="0.22" text-anchor="start" >x 10</text>
<text id="oxb" x="422.1" y="134.29" font-size="11.1" fill="#1c1c1c" stroke="#1c1c1c" stroke-width="0.22" text-anchor="start" >10% Mn (oxide)</text>
<text id="x3" x="334.94" y="208.39" font-size="10.99" fill="#1c1c1c" stroke="#1c1c1c" stroke-width="0.22" text-anchor="start" >x 10</text>
<text id="unb" x="447.17" y="226.11" font-size="11.58" fill="#1c1c1c" stroke="#1c1c1c" stroke-width="0.22" text-anchor="start" >undoped</text>
<text id="ple3" x="306.11" y="245.01" font-size="11.74" fill="#2a2ac8" stroke="#2a2ac8" stroke-width="0.22" text-anchor="start" >PLE</text>
<text id="pl3" x="387.03" y="243.6" font-size="11.96" fill="#2ec98a" stroke="#2ec98a" stroke-width="0.22" text-anchor="start" >PL</text>
<text id="pc" x="503.43" y="17.65" font-size="15.8" fill="#1c1c1c" stroke="#1c1c1c" stroke-width="0.22" text-anchor="start" >(c)</text>
<rect x="526.4" y="17.4" width="129.2" height="43.3" fill="#000"/>
<rect x="526.4" y="66.3" width="129.4" height="44.9" fill="#000"/>
<circle cx="549.1999999999999" cy="40.199999999999996" r="13.0" fill="none" stroke="#121413" stroke-width="1.3"/>
<path d="M537.75,34.4 A12.3,12.3 0 0 1 559.55,33.45" fill="none" stroke="#2e3634" stroke-width="0.9"/>
<path d="M561.43,44.78 A12.8,12.8 0 0 1 538.31,46.8" fill="none" stroke="#1f2927" stroke-width="1.0"/>
<ellipse cx="548.9" cy="39.4" rx="11.4" ry="10.7" fill="#e6e9e7"/>
<circle cx="591.9" cy="39.599999999999994" r="13.0" fill="none" stroke="#121413" stroke-width="1.3"/>
<path d="M580.45,33.8 A12.3,12.3 0 0 1 602.25,32.85" fill="none" stroke="#6a6258" stroke-width="0.9"/>
<path d="M604.13,44.18 A12.8,12.8 0 0 1 581.01,46.2" fill="none" stroke="#1f2927" stroke-width="1.0"/>
<ellipse cx="591.6" cy="38.8" rx="11.4" ry="10.7" fill="#e6e9e7"/>
<circle cx="632.4" cy="40.9" r="13.0" fill="none" stroke="#121413" stroke-width="1.3"/>
<path d="M620.95,35.1 A12.3,12.3 0 0 1 642.75,34.15" fill="none" stroke="#6a6258" stroke-width="0.9"/>
<path d="M644.63,45.48 A12.8,12.8 0 0 1 621.51,47.5" fill="none" stroke="#1f2927" stroke-width="1.0"/>
<ellipse cx="632.1" cy="40.1" rx="11.4" ry="10.7" fill="#e6e9e7"/>
<circle cx="550.6" cy="89.4" r="13.0" fill="#0a0a36" stroke="#2020c8" stroke-width="1.7"/>
<path d="M563.4,91.66 A13.0,13.0 0 0 1 542.24,99.36" fill="none" stroke="#2828f0" stroke-width="1.4"/>
<circle cx="592.2" cy="88.8" r="12.4" fill="#0c0c60" stroke="#1c1cc0" stroke-width="1.6"/>
<ellipse cx="592.4000000000001" cy="88.8" rx="11.1" ry="10.7" fill="#f81c14"/>
<circle cx="632.2" cy="88.8" r="12.4" fill="#0c0c60" stroke="#1c1cc0" stroke-width="1.6"/>
<ellipse cx="632.4000000000001" cy="88.8" rx="11.1" ry="10.7" fill="#f81c14"/>
<text id="u1" x="657.29" y="31.13" font-size="10.48" fill="#1c1c1c" stroke="#1c1c1c" stroke-width="0.22" text-anchor="start" >under</text>
<text id="dl" x="657.42" y="45.24" font-size="10.47" fill="#1c1c1c" stroke="#1c1c1c" stroke-width="0.22" text-anchor="start" >day-light</text>
<text id="u2" x="659.02" y="85.89" font-size="10.44" fill="#1c1c1c" stroke="#1c1c1c" stroke-width="0.22" text-anchor="start" >under</text>
<text id="uvl" x="659.17" y="99.08" font-size="10.75" fill="#1c1c1c" stroke="#1c1c1c" stroke-width="0.22" text-anchor="start" >uv light</text>
<text id="unc" x="521.65" y="123.62" font-size="10.94" fill="#1c1c1c" stroke="#1c1c1c" stroke-width="0.22" text-anchor="start" >undoped</text>
<text id="mnc1" x="572.33" y="123.23" font-size="10.96" fill="#1c1c1c" stroke="#1c1c1c" stroke-width="0.22" text-anchor="start" >10% Mn</text>
<text id="oxc" x="574.27" y="136.06" font-size="11.38" fill="#1c1c1c" stroke="#1c1c1c" stroke-width="0.22" text-anchor="start" >(oxide)</text>
<text id="mnc2" x="618.05" y="123.28" font-size="11.21" fill="#1c1c1c" stroke="#1c1c1c" stroke-width="0.22" text-anchor="start" >10% Mn</text>
<text id="flc" x="617.7" y="135.97" font-size="11.61" fill="#1c1c1c" stroke="#1c1c1c" stroke-width="0.22" text-anchor="start" >(fluoride)</text>
<text id="pd" x="501.59" y="144.69" font-size="15.99" fill="#1c1c1c" stroke="#1c1c1c" stroke-width="0.22" text-anchor="start" >(d)</text>
<text id="yld" transform="translate(522.5,257.77) rotate(-90)" font-size="13.74" fill="#1c1c1c" stroke="#1c1c1c" stroke-width="0.22" >Intensity (arb. u.)</text>
<line x1="533.6" y1="160.3" x2="533.6" y2="254.8" stroke="#151515" stroke-width="1.1" />
<line x1="530" y1="254.3" x2="668" y2="254.3" stroke="#151515" stroke-width="1.1" />
<line x1="530.6" y1="254.3" x2="533.6" y2="254.3" stroke="#151515" stroke-width="1.0" />
<line x1="531.6" y1="245.75" x2="533.6" y2="245.75" stroke="#151515" stroke-width="0.8" />
<line x1="531.6" y1="240.75" x2="533.6" y2="240.75" stroke="#151515" stroke-width="0.8" />
<line x1="531.6" y1="237.2" x2="533.6" y2="237.2" stroke="#151515" stroke-width="0.8" />
<line x1="531.6" y1="234.45" x2="533.6" y2="234.45" stroke="#151515" stroke-width="0.8" />
<line x1="531.6" y1="232.2" x2="533.6" y2="232.2" stroke="#151515" stroke-width="0.8" />
<line x1="531.6" y1="230.3" x2="533.6" y2="230.3" stroke="#151515" stroke-width="0.8" />
<line x1="531.6" y1="228.65" x2="533.6" y2="228.65" stroke="#151515" stroke-width="0.8" />
<line x1="531.6" y1="227.2" x2="533.6" y2="227.2" stroke="#151515" stroke-width="0.8" />
<line x1="530.6" y1="225.9" x2="533.6" y2="225.9" stroke="#151515" stroke-width="1.0" />
<line x1="531.6" y1="217.35" x2="533.6" y2="217.35" stroke="#151515" stroke-width="0.8" />
<line x1="531.6" y1="212.35" x2="533.6" y2="212.35" stroke="#151515" stroke-width="0.8" />
<line x1="531.6" y1="208.8" x2="533.6" y2="208.8" stroke="#151515" stroke-width="0.8" />
<line x1="531.6" y1="206.05" x2="533.6" y2="206.05" stroke="#151515" stroke-width="0.8" />
<line x1="531.6" y1="203.8" x2="533.6" y2="203.8" stroke="#151515" stroke-width="0.8" />
<line x1="531.6" y1="201.9" x2="533.6" y2="201.9" stroke="#151515" stroke-width="0.8" />
<line x1="531.6" y1="200.25" x2="533.6" y2="200.25" stroke="#151515" stroke-width="0.8" />
<line x1="531.6" y1="198.8" x2="533.6" y2="198.8" stroke="#151515" stroke-width="0.8" />
<line x1="530.6" y1="197.5" x2="533.6" y2="197.5" stroke="#151515" stroke-width="1.0" />
<line x1="531.6" y1="188.95" x2="533.6" y2="188.95" stroke="#151515" stroke-width="0.8" />
<line x1="531.6" y1="183.95" x2="533.6" y2="183.95" stroke="#151515" stroke-width="0.8" />
<line x1="531.6" y1="180.4" x2="533.6" y2="180.4" stroke="#151515" stroke-width="0.8" />
<line x1="531.6" y1="177.65" x2="533.6" y2="177.65" stroke="#151515" stroke-width="0.8" />
<line x1="531.6" y1="175.4" x2="533.6" y2="175.4" stroke="#151515" stroke-width="0.8" />
<line x1="531.6" y1="173.5" x2="533.6" y2="173.5" stroke="#151515" stroke-width="0.8" />
<line x1="531.6" y1="171.85" x2="533.6" y2="171.85" stroke="#151515" stroke-width="0.8" />
<line x1="531.6" y1="170.4" x2="533.6" y2="170.4" stroke="#151515" stroke-width="0.8" />
<line x1="530.6" y1="169.1" x2="533.6" y2="169.1" stroke="#151515" stroke-width="1.0" />
<line x1="531.6" y1="160.55" x2="533.6" y2="160.55" stroke="#151515" stroke-width="0.8" />
<line x1="540" y1="254.3" x2="540" y2="256.5" stroke="#151515" stroke-width="1.0" />
<line x1="555.2" y1="254.3" x2="555.2" y2="255.8" stroke="#151515" stroke-width="1.0" />
<line x1="570.4" y1="254.3" x2="570.4" y2="256.5" stroke="#151515" stroke-width="1.0" />
<line x1="585.6" y1="254.3" x2="585.6" y2="255.8" stroke="#151515" stroke-width="1.0" />
<line x1="600.8" y1="254.3" x2="600.8" y2="256.5" stroke="#151515" stroke-width="1.0" />
<line x1="616" y1="254.3" x2="616" y2="255.8" stroke="#151515" stroke-width="1.0" />
<line x1="631.2" y1="254.3" x2="631.2" y2="256.5" stroke="#151515" stroke-width="1.0" />
<line x1="646.4" y1="254.3" x2="646.4" y2="255.8" stroke="#151515" stroke-width="1.0" />
<line x1="661.6" y1="254.3" x2="661.6" y2="256.5" stroke="#151515" stroke-width="1.0" />
<text id="td0" x="539.78" y="270.78" font-size="11.6" fill="#1c1c1c" stroke="#1c1c1c" stroke-width="0.22" text-anchor="middle" >0</text>
<text id="td5" x="570.03" y="270.78" font-size="11.6" fill="#1c1c1c" stroke="#1c1c1c" stroke-width="0.22" text-anchor="middle" >5</text>
<text id="td10" x="600.79" y="270.78" font-size="11.6" fill="#1c1c1c" stroke="#1c1c1c" stroke-width="0.22" text-anchor="middle" >10</text>
<text id="td15" x="631.08" y="270.78" font-size="11.6" fill="#1c1c1c" stroke="#1c1c1c" stroke-width="0.22" text-anchor="middle" >15</text>
<text id="td20" x="661.61" y="270.78" font-size="11.6" fill="#1c1c1c" stroke="#1c1c1c" stroke-width="0.22" text-anchor="middle" >20</text>
<text id="time" x="609.86" y="289.44" font-size="13.8" fill="#1c1c1c" stroke="#1c1c1c" stroke-width="0.22" text-anchor="middle" >Time (ms)</text>
<polygon points="539,168.3 539.5,169.4 540,170.52 540.5,171.66 541,172.78 541.5,173.71 542,174.59 542.5,175.56 543,176.39 543.5,177.32 544,178.14 544.5,179.09 545,180.21 545.5,180.86 546,181.6 546.5,182.13 547,182.85 547.5,183.75 548,184.18 548.5,185.04 549,185.67 549.5,186.18 550,187.17 550.5,187.7 551,188.27 551.5,188.58 552,189.4 552.5,190.05 553,190.6 553.5,190.55 554,190.93 554.5,191.53 555,192.08 555.5,192.33 556,193.1 556.5,193.93 557,193.88 557.5,194.13 558,194.96 558.5,195.73 559,196.02 559.5,196.55 560,196.91 560.5,197.05 561,197.81 561.5,197.71 562,197.82 562.5,198.86 563,199.19 563.5,198.76 564,200.04 564.5,200.28 565,200.12 565.5,201.2 566,201.03 566.5,200.53 567,201.44 567.5,201.52 568,201.49 568.5,201.82 569,202.84 569.5,203.59 570,203.97 570.5,203.88 571,203.82 571.5,204.51 572,204.49 572.5,204.76 573,203.9 573.5,204.66 574,204.6 574.5,203.88 575,204.69 575.5,205.63 576,205.42 576.5,204.76 577,206.53 577.5,205.82 578,206.03 578.5,206.31 579,205.89 579.5,207.36 580,207.81 580.5,207.34 581,208.01 581.5,207.31 582,207.49 582.5,207.81 583,209.25 583.5,209.24 584,210.14 584.5,209.93 585,208.79 585.5,209.08 586,209.29 586.5,211.01 587,211.31 587.5,210.7 588,210.52 588.5,211.12 589,212.48 589.5,211.06 590,211.6 590.5,212.97 591,212.88 591.5,211.83 592,213.2 592.5,212.78 593,214.2 593.5,212.87 594,214.61 594.5,213.07 595,214.47 595.5,215.04 596,213.49 596.5,214.51 597,214.83 597.5,214.18 598,215.46 598.5,215.62 599,215.71 599.5,216.1 600,215.79 600.5,215.43 601,215.86 601.5,215.8 602,215.85 602.5,216.12 603,217.09 603.5,216.86 604,215.85 604.5,216.75 605,216.39 605.5,217.39 606,217.2 606.5,216.26 607,216.78 607.5,216.14 608,216.81 608.5,217.08 609,217.26 609.5,217.28 610,216.9 610.5,216.48 611,217.31 611.5,216.82 612,218.32 612.5,218.49 613,218.55 613.5,217.17 614,218.46 614.5,217.48 615,217.07 615.5,218.43 616,218.1 616.5,216.95 617,218.64 617.5,217.97 618,218.64 618.5,217.62 619,217.99 619.5,219.08 620,217.88 620.5,219.01 621,217.58 621.5,218.96 622,219.1 622.5,218.65 623,218.36 623.5,217.58 624,218.94 624.5,218.11 625,219.08 625.5,217.9 626,219.15 626.5,218.04 627,219.15 627.5,219.2 628,218.44 628.5,218.25 629,218.84 629.5,218.33 630,219.18 630.5,219.32 631,218.82 631.5,217.94 632,218.48 632.5,218.81 633,219.02 633.5,218.07 634,219.18 634.5,217.71 635,217.96 635.5,218.63 636,218.85 636.5,218.28 637,218.99 637.5,218.29 638,218.91 638.5,219.63 639,219.62 639.5,219.27 640,219.63 640.5,218.08 641,219.28 641.5,219.27 642,219.56 642.5,219.37 643,217.97 643.5,219.45 644,219.34 644.5,219.98 645,219.05 645.5,219.62 646,220.04 646.5,219.9 647,220.02 647.5,219.52 648,218.98 648.5,218.67 649,218.77 649.5,219.45 650,218.28 650.5,218.83 651,220.21 651.5,218.54 652,218.88 652.5,220.1 653,219.39 653.5,218.82 654,219.28 654.5,219.11 655,220.04 655.5,220.25 656,220.32 656.5,219.43 657,219.31 657.5,219.6 658,219 658.5,219.6 659,219.3 659.5,219.16 660,220.5 660.5,219.21 661,219.2 661.5,219.71 661.5,239.69 661,240.68 660.5,239.22 660,239.25 659.5,239.15 659,238.73 658.5,239.5 658,239.81 657.5,238.39 657,239.53 656.5,239.36 656,239.66 655.5,238.73 655,238.06 654.5,239.2 654,239.51 653.5,239.34 653,239.3 652.5,238.69 652,239.16 651.5,238.78 651,239.1 650.5,238.71 650,237.77 649.5,238.04 649,238.98 648.5,238.53 648,238.25 647.5,237.67 647,237.24 646.5,237.87 646,237.58 645.5,237.96 645,237.9 644.5,237.64 644,237.56 643.5,238.61 643,237.81 642.5,238.51 642,237.54 641.5,237.52 641,237.09 640.5,237.82 640,238.08 639.5,236.82 639,237.81 638.5,236.67 638,237.02 637.5,237.49 637,237.8 636.5,238.03 636,237.13 635.5,237.68 635,236.91 634.5,236.28 634,236.9 633.5,237 633,235.99 632.5,235.95 632,236.19 631.5,236.35 631,236.34 630.5,236.11 630,235.99 629.5,236.08 629,235.84 628.5,237.23 628,236.13 627.5,237.03 627,236.97 626.5,236.82 626,237.03 625.5,236.06 625,235.35 624.5,236.46 624,236.81 623.5,235.57 623,236.7 622.5,235.25 622,236.37 621.5,235.41 621,236.63 620.5,236.61 620,235.71 619.5,235.34 619,235.49 618.5,234.68 618,235.16 617.5,235.14 617,235.24 616.5,235.91 616,235.23 615.5,236.01 615,235.97 614.5,234.43 614,235.41 613.5,235.67 613,235.21 612.5,234.35 612,234.63 611.5,234 611,235.36 610.5,234.05 610,235.08 609.5,235.11 609,234.29 608.5,234.5 608,234.08 607.5,233.88 607,234.37 606.5,233.79 606,233.26 605.5,233.64 605,233.93 604.5,233.33 604,233.27 603.5,233 603,233.47 602.5,232.24 602,231.82 601.5,232.62 601,233.19 600.5,233.05 600,232.12 599.5,232.75 599,231.69 598.5,231.81 598,231.09 597.5,230.76 597,231.77 596.5,231.7 596,231 595.5,229.68 595,230.45 594.5,230.47 594,230.59 593.5,230.27 593,228.81 592.5,228.56 592,229.67 591.5,228.4 591,228.84 590.5,228.54 590,227.69 589.5,227.96 589,227.46 588.5,227.42 588,226.56 587.5,227.01 587,225.45 586.5,225.18 586,225.12 585.5,225.94 585,224.66 584.5,224.79 584,223.74 583.5,222.98 583,223.55 582.5,223.64 582,223.45 581.5,223.47 581,221.79 580.5,222.48 580,222.16 579.5,221.12 579,221.41 578.5,221.58 578,219.58 577.5,219.47 577,220.53 576.5,218.86 576,218.72 575.5,218.13 575,218.43 574.5,218.87 574,217.11 573.5,217.09 573,216.41 572.5,217.14 572,215.99 571.5,215.31 571,214.8 570.5,214.58 570,214.08 569.5,214.4 569,213.61 568.5,213.68 568,213.18 567.5,211.78 567,212.03 566.5,211.65 566,211.03 565.5,210.38 565,209.73 564.5,209.53 564,208.77 563.5,208.22 563,208.55 562.5,207.53 562,207.48 561.5,206.98 561,206.02 560.5,205.91 560,204.8 559.5,204.76 559,203.66 558.5,203.45 558,203.11 557.5,202.27 557,202.33 556.5,201.45 556,200.77 555.5,200.33 555,199.33 554.5,198.78 554,197.95 553.5,197.48 553,196.9 552.5,196.14 552,195.66 551.5,194.65 551,194.11 550.5,193.6 550,192.64 549.5,191.89 549,190.89 548.5,190.21 548,189.34 547.5,188.44 547,187.59 546.5,186.89 546,186.15 545.5,185.41 545,184.41 544.5,183.28 544,182.05 543.5,180.95 543,179.87 542.5,178.57 542,177.47 541.5,176.2 541,175.06 540.5,173.8 540,172.53 539.5,171.26 539,170" fill="#a2b62a"/>
<polygon points="539,168.5 539.5,169.64 540,170.78 540.5,171.9 541,173.07 541.5,174.01 542,174.9 542.5,175.93 543,176.89 543.5,177.81 544,178.76 544.5,179.8 545,180.78 545.5,181.26 546,182.2 546.5,182.82 547,183.46 547.5,184.18 548,184.87 548.5,185.89 549,186.57 549.5,187.33 550,187.77 550.5,188.6 551,189.09 551.5,189.8 552,190.14 552.5,190.72 553,191.04 553.5,192.01 554,192.57 554.5,193.06 555,193.22 555.5,194.13 556,194.21 556.5,194.64 557,195.01 557.5,195.58 558,196 558.5,196.64 559,196.98 559.5,197.85 560,198.09 560.5,198.8 561,199.06 561.5,199.53 562,200 562.5,200.01 563,201.07 563.5,200.97 564,201.13 564.5,202.15 565,202.16 565.5,202.4 566,202.31 566.5,202.68 567,203.34 567.5,204.14 568,203.95 568.5,203.98 569,204.49 569.5,204.7 570,205.44 570.5,205.83 571,205.57 571.5,205.68 572,205.43 572.5,206.8 573,206.34 573.5,207 574,206.34 574.5,206.68 575,207.64 575.5,207.81 576,206.85 576.5,208.42 577,208.23 577.5,208.21 578,209.17 578.5,209.68 579,208.59 579.5,209.51 580,210.45 580.5,210.24 581,210.2 581.5,209.8 582,210.37 582.5,211.28 583,210.7 583.5,211.77 584,211.18 584.5,212.09 585,212.12 585.5,212.71 586,212.48 586.5,213.78 587,213.91 587.5,213.13 588,214.54 588.5,213.72 589,214.25 589.5,214.35 590,214.97 590.5,214.49 591,214.89 591.5,215.67 592,216.08 592.5,215.83 593,216.8 593.5,216.79 594,216.05 594.5,216.31 595,216.76 595.5,216.46 596,217.3 596.5,216.6 597,216.84 597.5,216.86 598,216.86 598.5,218.34 599,218.21 599.5,218.66 600,217.6 600.5,218.59 601,218.56 601.5,218.2 602,217.97 602.5,218.25 603,219.43 603.5,219.54 604,218.67 604.5,219.52 605,218.38 605.5,219 606,218.81 606.5,220.04 607,219.36 607.5,219.99 608,218.89 608.5,220.37 609,220.16 609.5,219.58 610,220.63 610.5,219.59 611,219.74 611.5,219.31 612,220.83 612.5,220.94 613,219.87 613.5,221.06 614,220.19 614.5,220.29 615,221.12 615.5,220.95 616,221.02 616.5,220.7 617,220.28 617.5,221.05 618,220.15 618.5,220.26 619,219.95 619.5,220.43 620,221.34 620.5,220.36 621,220.11 621.5,221.1 622,220.36 622.5,220.99 623,221.21 623.5,221.09 624,221.38 624.5,220.96 625,221.24 625.5,220.47 626,220.34 626.5,221.03 627,220.75 627.5,220.94 628,221.44 628.5,221.74 629,220.93 629.5,221.53 630,220.26 630.5,220.41 631,221.8 631.5,221.75 632,221.67 632.5,220.72 633,221.83 633.5,221.29 634,220.71 634.5,220.61 635,220.81 635.5,221.46 636,220.46 636.5,221.55 637,220.98 637.5,221.77 638,220.62 638.5,221.17 639,221.58 639.5,220.84 640,221.26 640.5,221.11 641,221.14 641.5,221.23 642,222.06 642.5,221.28 643,221.88 643.5,220.75 644,221.44 644.5,221.43 645,221.54 645.5,220.85 646,221.88 646.5,221.02 647,221.49 647.5,221.16 648,221.78 648.5,221.15 649,222.29 649.5,221.34 650,222.56 650.5,221.85 651,222.58 651.5,222.57 652,222.47 652.5,222.43 653,221.85 653.5,222.55 654,221.6 654.5,222.1 655,221.5 655.5,222.48 656,221.4 656.5,222.56 657,222.7 657.5,222.34 658,222.4 658.5,222.08 659,222.1 659.5,222.15 660,221.49 660.5,222.25 661,222.71 661.5,222.23 661.5,238.28 661,237.49 660.5,238.06 660,237.53 659.5,237.67 659,237.32 658.5,237.34 658,237.59 657.5,237.22 657,237.67 656.5,237.69 656,236.98 655.5,236.5 655,237.2 654.5,236.99 654,236.92 653.5,237.13 653,236.28 652.5,236.98 652,237.01 651.5,236.41 651,236.63 650.5,236.99 650,235.83 649.5,236.8 649,235.74 648.5,236.26 648,235.69 647.5,236.41 647,236.09 646.5,235.9 646,235.51 645.5,235.89 645,236.3 644.5,235.4 644,235.43 643.5,235.29 643,236.08 642.5,236.05 642,235.04 641.5,235.7 641,235.47 640.5,234.97 640,235.73 639.5,235.19 639,235.87 638.5,235.28 638,235.77 637.5,235.19 637,235.56 636.5,235.54 636,235.33 635.5,235.43 635,234.91 634.5,235.35 634,235.1 633.5,234.76 633,235.33 632.5,234.48 632,234.83 631.5,234.88 631,234.59 630.5,235.02 630,234.85 629.5,234.06 629,234.13 628.5,234.94 628,234.23 627.5,234.7 627,233.74 626.5,234.49 626,233.78 625.5,234.5 625,234.51 624.5,234.25 624,234.3 623.5,234.46 623,233.55 622.5,233.71 622,233.97 621.5,233.89 621,233.78 620.5,234.24 620,233.11 619.5,233.07 619,233.54 618.5,234.06 618,233.18 617.5,233.93 617,233.53 616.5,233.51 616,232.92 615.5,232.91 615,233.51 614.5,233.08 614,233.32 613.5,232.41 613,232.93 612.5,233.39 612,232.57 611.5,232.34 611,232.84 610.5,232.22 610,232.26 609.5,232.59 609,231.76 608.5,232.44 608,232.59 607.5,232.53 607,231.53 606.5,232.34 606,231.82 605.5,231.03 605,231.45 604.5,231.37 604,230.79 603.5,231.4 603,231.38 602.5,230.99 602,231.28 601.5,230.77 601,230.59 600.5,230.88 600,229.68 599.5,230.22 599,229.24 598.5,229.19 598,229.59 597.5,229.82 597,228.53 596.5,229.04 596,228.19 595.5,228.65 595,228.74 594.5,227.64 594,227.69 593.5,228.04 593,227.66 592.5,227.5 592,226.58 591.5,226.95 591,226.4 590.5,226.58 590,225.22 589.5,225.74 589,224.96 588.5,225.46 588,224.35 587.5,224.6 587,224.01 586.5,223.5 586,223.41 585.5,223.65 585,223.08 584.5,222.34 584,222.65 583.5,221.59 583,221.81 582.5,221.44 582,220.4 581.5,220.25 581,220.22 580.5,219.66 580,219.41 579.5,219.15 579,219.47 578.5,219.06 578,218.04 577.5,217.67 577,218.43 576.5,217.59 576,217.03 575.5,217.48 575,216.28 574.5,216.37 574,216.22 573.5,215.9 573,215.12 572.5,215.27 572,214.77 571.5,214.35 571,213.82 570.5,213.57 570,212.77 569.5,212.91 569,212.62 568.5,212.17 568,211.68 567.5,210.5 567,210.72 566.5,209.7 566,209.87 565.5,209.24 565,208.87 564.5,208.45 564,207.65 563.5,207.5 563,207.21 562.5,206.77 562,205.86 561.5,205.5 561,205.27 560.5,204.45 560,203.72 559.5,203.3 559,202.73 558.5,202.69 558,202.15 557.5,201.28 557,200.85 556.5,200.65 556,199.83 555.5,199.13 555,198.61 554.5,198.04 554,197.23 553.5,196.87 553,195.98 552.5,195.33 552,194.92 551.5,194.31 551,193.62 550.5,193 550,191.92 549.5,191.2 549,190.48 548.5,189.8 548,188.91 547.5,188.11 547,187.24 546.5,186.61 546,185.68 545.5,185 545,184.13 544.5,183.1 544,181.96 543.5,180.75 543,179.62 542.5,178.41 542,177.3 541.5,176.16 541,174.98 540.5,173.74 540,172.5 539.5,171.24 539,170" fill="#cc36bc"/>
<line x1="607.8" y1="221.63" x2="607.8" y2="223.64" stroke="#de6ad0" stroke-width="0.6" />
<line x1="603.49" y1="220.61" x2="603.49" y2="223.88" stroke="#de6ad0" stroke-width="0.6" />
<line x1="611.53" y1="221.31" x2="611.53" y2="225.36" stroke="#de6ad0" stroke-width="0.6" />
<line x1="568.31" y1="210.25" x2="568.31" y2="212.08" stroke="#de6ad0" stroke-width="0.6" />
<line x1="611.66" y1="221.5" x2="611.66" y2="225.01" stroke="#de6ad0" stroke-width="0.6" />
<line x1="598.16" y1="229.55" x2="598.16" y2="230.13" stroke="#de6ad0" stroke-width="0.6" />
<line x1="646.56" y1="236.6" x2="646.56" y2="236.66" stroke="#de6ad0" stroke-width="0.6" />
<line x1="642.31" y1="224.92" x2="642.31" y2="230.35" stroke="#de6ad0" stroke-width="0.6" />
<line x1="609.68" y1="232.41" x2="609.68" y2="232.95" stroke="#de6ad0" stroke-width="0.6" />
<line x1="576.68" y1="216.21" x2="576.68" y2="218.23" stroke="#de6ad0" stroke-width="0.6" />
<line x1="566.62" y1="206.38" x2="566.62" y2="210.56" stroke="#de6ad0" stroke-width="0.6" />
<line x1="576.04" y1="216.85" x2="576.04" y2="217.84" stroke="#de6ad0" stroke-width="0.6" />
<line x1="642.38" y1="224.22" x2="642.38" y2="227.73" stroke="#de6ad0" stroke-width="0.6" />
<line x1="652.91" y1="225.74" x2="652.91" y2="228.29" stroke="#de6ad0" stroke-width="0.6" />
<line x1="611.11" y1="224.72" x2="611.11" y2="226.36" stroke="#de6ad0" stroke-width="0.6" />
<line x1="578.39" y1="211.16" x2="578.39" y2="216.4" stroke="#de6ad0" stroke-width="0.6" />
<line x1="628.65" y1="233.67" x2="628.65" y2="235.08" stroke="#de6ad0" stroke-width="0.6" />
<line x1="639.27" y1="223.67" x2="639.27" y2="227.3" stroke="#de6ad0" stroke-width="0.6" />
<line x1="624.27" y1="226.27" x2="624.27" y2="231.26" stroke="#de6ad0" stroke-width="0.6" />
<line x1="616.07" y1="228.54" x2="616.07" y2="233.57" stroke="#de6ad0" stroke-width="0.6" />
<line x1="570.57" y1="213.95" x2="570.57" y2="214.01" stroke="#de6ad0" stroke-width="0.6" />
<line x1="599.82" y1="228.31" x2="599.82" y2="230.73" stroke="#de6ad0" stroke-width="0.6" />
<line x1="660.04" y1="231.8" x2="660.04" y2="234.74" stroke="#de6ad0" stroke-width="0.6" />
<line x1="637.23" y1="228.11" x2="637.23" y2="230.32" stroke="#de6ad0" stroke-width="0.6" />
<line x1="635.1" y1="222.57" x2="635.1" y2="227.35" stroke="#de6ad0" stroke-width="0.6" />
<line x1="585.62" y1="219.97" x2="585.62" y2="223.73" stroke="#de6ad0" stroke-width="0.6" />
<line x1="619.17" y1="229.91" x2="619.17" y2="232.66" stroke="#de6ad0" stroke-width="0.6" />
<line x1="560.18" y1="199.53" x2="560.18" y2="201.63" stroke="#de6ad0" stroke-width="0.6" />
<line x1="622.22" y1="227.11" x2="622.22" y2="230.66" stroke="#de6ad0" stroke-width="0.6" />
<line x1="650.45" y1="224.48" x2="650.45" y2="226.89" stroke="#de6ad0" stroke-width="0.6" />
<line x1="625.96" y1="221.89" x2="625.96" y2="223.4" stroke="#de6ad0" stroke-width="0.6" />
<line x1="595.85" y1="218.93" x2="595.85" y2="221.85" stroke="#de6ad0" stroke-width="0.6" />
<line x1="582.65" y1="217.71" x2="582.65" y2="221.56" stroke="#de6ad0" stroke-width="0.6" />
<line x1="580.62" y1="216.94" x2="580.62" y2="220.34" stroke="#de6ad0" stroke-width="0.6" />
<line x1="573.61" y1="215.64" x2="573.61" y2="216.2" stroke="#de6ad0" stroke-width="0.6" />
<line x1="575.08" y1="208.74" x2="575.08" y2="212.8" stroke="#de6ad0" stroke-width="0.6" />
<line x1="648" y1="233.67" x2="648" y2="236.78" stroke="#de6ad0" stroke-width="0.6" />
<line x1="586.69" y1="213.97" x2="586.69" y2="218.05" stroke="#de6ad0" stroke-width="0.6" />
<line x1="616.8" y1="225.7" x2="616.8" y2="229.78" stroke="#de6ad0" stroke-width="0.6" />
<line x1="604.82" y1="231.2" x2="604.82" y2="231.97" stroke="#de6ad0" stroke-width="0.6" />
<line x1="585.1" y1="222.41" x2="585.1" y2="223.41" stroke="#de6ad0" stroke-width="0.6" />
<line x1="613.68" y1="226.13" x2="613.68" y2="228.59" stroke="#de6ad0" stroke-width="0.6" />
<line x1="565.9" y1="208.53" x2="565.9" y2="209.91" stroke="#de6ad0" stroke-width="0.6" />
<line x1="615.64" y1="233.06" x2="615.64" y2="233.81" stroke="#de6ad0" stroke-width="0.6" />
<line x1="580.15" y1="216.51" x2="580.15" y2="220.04" stroke="#de6ad0" stroke-width="0.6" />
<line x1="624.8" y1="232.27" x2="624.8" y2="234.47" stroke="#de6ad0" stroke-width="0.6" />
<line x1="591.25" y1="219.29" x2="591.25" y2="220.98" stroke="#de6ad0" stroke-width="0.6" />
<line x1="649.82" y1="233.85" x2="649.82" y2="236.98" stroke="#de6ad0" stroke-width="0.6" />
<line x1="560.64" y1="204.13" x2="560.64" y2="204.94" stroke="#de6ad0" stroke-width="0.6" />
<line x1="606.99" y1="229.32" x2="606.99" y2="232.5" stroke="#de6ad0" stroke-width="0.6" />
<line x1="582.82" y1="212.97" x2="582.82" y2="215.4" stroke="#de6ad0" stroke-width="0.6" />
<line x1="563.92" y1="204.32" x2="563.92" y2="208.13" stroke="#de6ad0" stroke-width="0.6" />
<line x1="630.21" y1="233.13" x2="630.21" y2="235.22" stroke="#de6ad0" stroke-width="0.6" />
<line x1="586.86" y1="219.78" x2="586.86" y2="223.03" stroke="#de6ad0" stroke-width="0.6" />
<line x1="639.63" y1="229.38" x2="639.63" y2="231.95" stroke="#de6ad0" stroke-width="0.6" />
<line x1="624.84" y1="234.27" x2="624.84" y2="234.73" stroke="#de6ad0" stroke-width="0.6" />
<line x1="648.88" y1="222.71" x2="648.88" y2="225.25" stroke="#de6ad0" stroke-width="0.6" />
<line x1="583.85" y1="220.02" x2="583.85" y2="222.64" stroke="#de6ad0" stroke-width="0.6" />
<line x1="635.36" y1="226.41" x2="635.36" y2="231.43" stroke="#de6ad0" stroke-width="0.6" />
<line x1="593.18" y1="219.54" x2="593.18" y2="224.67" stroke="#de6ad0" stroke-width="0.6" />
<line x1="623.7" y1="230.6" x2="623.7" y2="234.63" stroke="#de6ad0" stroke-width="0.6" />
<line x1="658.88" y1="230.05" x2="658.88" y2="234.9" stroke="#de6ad0" stroke-width="0.6" />
<line x1="630.46" y1="233.31" x2="630.46" y2="235.24" stroke="#de6ad0" stroke-width="0.6" />
<line x1="633.19" y1="229.61" x2="633.19" y2="232.34" stroke="#de6ad0" stroke-width="0.6" />
<line x1="581.41" y1="217.38" x2="581.41" y2="219.19" stroke="#de6ad0" stroke-width="0.6" />
<line x1="651.99" y1="224.75" x2="651.99" y2="226.36" stroke="#de6ad0" stroke-width="0.6" />
<line x1="570.77" y1="213.62" x2="570.77" y2="214.16" stroke="#de6ad0" stroke-width="0.6" />
<line x1="574.33" y1="207.86" x2="574.33" y2="209.53" stroke="#de6ad0" stroke-width="0.6" />
<line x1="629.96" y1="230.25" x2="629.96" y2="234.54" stroke="#de6ad0" stroke-width="0.6" />
<line x1="634.42" y1="222.78" x2="634.42" y2="226.64" stroke="#de6ad0" stroke-width="0.6" />
<line x1="596.7" y1="227.46" x2="596.7" y2="229.59" stroke="#de6ad0" stroke-width="0.6" />
<line x1="650.02" y1="223.5" x2="650.02" y2="228.48" stroke="#de6ad0" stroke-width="0.6" />
<line x1="652.36" y1="236.42" x2="652.36" y2="237.24" stroke="#de6ad0" stroke-width="0.6" />
<line x1="580.78" y1="211.96" x2="580.78" y2="213.6" stroke="#de6ad0" stroke-width="0.6" />
<line x1="645.62" y1="233.89" x2="645.62" y2="236.56" stroke="#de6ad0" stroke-width="0.6" />
<line x1="643.33" y1="231.15" x2="643.33" y2="233.8" stroke="#de6ad0" stroke-width="0.6" />
<line x1="570.09" y1="207.04" x2="570.09" y2="211.57" stroke="#de6ad0" stroke-width="0.6" />
<line x1="580.7" y1="213.97" x2="580.7" y2="217.17" stroke="#de6ad0" stroke-width="0.6" />
<line x1="562.11" y1="202.41" x2="562.11" y2="205.04" stroke="#de6ad0" stroke-width="0.6" />
<line x1="632.29" y1="226.8" x2="632.29" y2="229.58" stroke="#de6ad0" stroke-width="0.6" />
<line x1="657.36" y1="230.42" x2="657.36" y2="235.33" stroke="#de6ad0" stroke-width="0.6" />
<line x1="622.45" y1="221.9" x2="622.45" y2="225.05" stroke="#de6ad0" stroke-width="0.6" />
<line x1="604.08" y1="229.03" x2="604.08" y2="231.79" stroke="#de6ad0" stroke-width="0.6" />
<line x1="631.17" y1="229.04" x2="631.17" y2="231.4" stroke="#de6ad0" stroke-width="0.6" />
<line x1="647.09" y1="223.7" x2="647.09" y2="228.48" stroke="#de6ad0" stroke-width="0.6" />
<line x1="577.21" y1="208.98" x2="577.21" y2="211.29" stroke="#de6ad0" stroke-width="0.6" />
<line x1="636.98" y1="235.5" x2="636.98" y2="235.8" stroke="#de6ad0" stroke-width="0.6" />
<line x1="609.57" y1="226.63" x2="609.57" y2="231.32" stroke="#de6ad0" stroke-width="0.6" />
<line x1="578.64" y1="214.53" x2="578.64" y2="217.41" stroke="#de6ad0" stroke-width="0.6" />
<line x1="644.02" y1="225.95" x2="644.02" y2="231.22" stroke="#de6ad0" stroke-width="0.6" />
<line x1="588.66" y1="217.11" x2="588.66" y2="221.41" stroke="#de6ad0" stroke-width="0.6" />
<line x1="610.33" y1="222.01" x2="610.33" y2="226.05" stroke="#de6ad0" stroke-width="0.6" />
<line x1="568.17" y1="210.5" x2="568.17" y2="211.95" stroke="#de6ad0" stroke-width="0.6" />
<line x1="639.48" y1="230.83" x2="639.48" y2="233.76" stroke="#de6ad0" stroke-width="0.6" />
<line x1="600.53" y1="223.65" x2="600.53" y2="228.71" stroke="#de6ad0" stroke-width="0.6" />
<line x1="568.7" y1="211.66" x2="568.7" y2="212.43" stroke="#de6ad0" stroke-width="0.6" />
<line x1="580.82" y1="213.48" x2="580.82" y2="218.59" stroke="#de6ad0" stroke-width="0.6" />
<line x1="610.62" y1="225.39" x2="610.62" y2="230.43" stroke="#de6ad0" stroke-width="0.6" />
<line x1="583.59" y1="216.99" x2="583.59" y2="220.62" stroke="#de6ad0" stroke-width="0.6" />
<line x1="636.2" y1="232.33" x2="636.2" y2="235.74" stroke="#de6ad0" stroke-width="0.6" />
<line x1="595.2" y1="221.28" x2="595.2" y2="223.4" stroke="#de6ad0" stroke-width="0.6" />
<line x1="645.15" y1="231.71" x2="645.15" y2="236.18" stroke="#de6ad0" stroke-width="0.6" />
<line x1="577.12" y1="213.13" x2="577.12" y2="217.72" stroke="#de6ad0" stroke-width="0.6" />
<line x1="618.5" y1="222.98" x2="618.5" y2="226.32" stroke="#de6ad0" stroke-width="0.6" />
<line x1="649.4" y1="225.95" x2="649.4" y2="228.22" stroke="#de6ad0" stroke-width="0.6" />
<line x1="590.45" y1="223.33" x2="590.45" y2="226.59" stroke="#de6ad0" stroke-width="0.6" />
<line x1="575.61" y1="209.6" x2="575.61" y2="212.09" stroke="#de6ad0" stroke-width="0.6" />
<line x1="592.98" y1="222.63" x2="592.98" y2="224.78" stroke="#de6ad0" stroke-width="0.6" />
<line x1="593.14" y1="218.95" x2="593.14" y2="224.35" stroke="#de6ad0" stroke-width="0.6" />
<line x1="633.6" y1="223.24" x2="633.6" y2="228.59" stroke="#de6ad0" stroke-width="0.6" />
<line x1="570.27" y1="209.23" x2="570.27" y2="213.79" stroke="#de6ad0" stroke-width="0.6" />
<line x1="640.28" y1="232.36" x2="640.28" y2="235.6" stroke="#de6ad0" stroke-width="0.6" />
<line x1="579.82" y1="216.61" x2="579.82" y2="218.53" stroke="#de6ad0" stroke-width="0.6" />
<line x1="580.85" y1="214.74" x2="580.85" y2="216.37" stroke="#de6ad0" stroke-width="0.6" />
<line x1="600.3" y1="228.36" x2="600.3" y2="230.87" stroke="#de6ad0" stroke-width="0.6" />
<line x1="610.55" y1="228.53" x2="610.55" y2="231.88" stroke="#de6ad0" stroke-width="0.6" />
<line x1="574.32" y1="213.1" x2="574.32" y2="216.22" stroke="#de6ad0" stroke-width="0.6" />
<line x1="634.84" y1="234.36" x2="634.84" y2="235.62" stroke="#de6ad0" stroke-width="0.6" />
<line x1="617.97" y1="230.88" x2="617.97" y2="234.07" stroke="#de6ad0" stroke-width="0.6" />
<line x1="583.09" y1="219.36" x2="583.09" y2="222.17" stroke="#de6ad0" stroke-width="0.6" />
<line x1="640.83" y1="235.14" x2="640.83" y2="239.94" stroke="#cc36bc" stroke-width="0.7" />
<line x1="632.18" y1="234.39" x2="632.18" y2="238.96" stroke="#cc36bc" stroke-width="0.7" />
<line x1="598.64" y1="229.3" x2="598.64" y2="232.82" stroke="#a2b62a" stroke-width="0.7" />
<line x1="608.39" y1="231.73" x2="608.39" y2="236.7" stroke="#cc36bc" stroke-width="0.7" />
<line x1="627.61" y1="233.98" x2="627.61" y2="236.98" stroke="#cc36bc" stroke-width="0.7" />
<line x1="611.65" y1="232.28" x2="611.65" y2="236.76" stroke="#cc36bc" stroke-width="0.7" />
<line x1="631.78" y1="234.35" x2="631.78" y2="240.08" stroke="#a2b62a" stroke-width="0.7" />
<line x1="629.89" y1="234.19" x2="629.89" y2="239.3" stroke="#a2b62a" stroke-width="0.7" />
<line x1="614.82" y1="232.71" x2="614.82" y2="238.61" stroke="#a2b62a" stroke-width="0.7" />
<line x1="619.72" y1="233.27" x2="619.72" y2="235.91" stroke="#cc36bc" stroke-width="0.7" />
<line x1="656.06" y1="236.66" x2="656.06" y2="240.74" stroke="#a2b62a" stroke-width="0.7" />
<line x1="622.57" y1="233.52" x2="622.57" y2="237.69" stroke="#cc36bc" stroke-width="0.7" />
<line x1="616.87" y1="232.95" x2="616.87" y2="237.51" stroke="#cc36bc" stroke-width="0.7" />
<line x1="617.73" y1="233.05" x2="617.73" y2="236.69" stroke="#cc36bc" stroke-width="0.7" />
<line x1="589.22" y1="224.89" x2="589.22" y2="227.69" stroke="#a2b62a" stroke-width="0.7" />
<line x1="639.79" y1="235.05" x2="639.79" y2="237.54" stroke="#cc36bc" stroke-width="0.7" />
<line x1="602.53" y1="230.41" x2="602.53" y2="232.41" stroke="#a2b62a" stroke-width="0.7" />
<line x1="606.57" y1="231.4" x2="606.57" y2="233.36" stroke="#cc36bc" stroke-width="0.7" />
<line x1="608.48" y1="231.75" x2="608.48" y2="236.4" stroke="#a2b62a" stroke-width="0.7" />
<line x1="594.26" y1="227.7" x2="594.26" y2="229.85" stroke="#cc36bc" stroke-width="0.7" />
<line x1="656" y1="236.65" x2="656" y2="240.76" stroke="#a2b62a" stroke-width="0.7" />
<line x1="643.34" y1="235.36" x2="643.34" y2="238.92" stroke="#a2b62a" stroke-width="0.7" />
<line x1="581.83" y1="220.4" x2="581.83" y2="222.61" stroke="#cc36bc" stroke-width="0.7" />
<line x1="628.04" y1="234.02" x2="628.04" y2="237.9" stroke="#cc36bc" stroke-width="0.7" />
<line x1="590.68" y1="225.72" x2="590.68" y2="229.23" stroke="#a2b62a" stroke-width="0.7" />
<line x1="628.45" y1="234.06" x2="628.45" y2="239.33" stroke="#cc36bc" stroke-width="0.7" />
<line x1="612.83" y1="232.47" x2="612.83" y2="235.65" stroke="#cc36bc" stroke-width="0.7" />
<line x1="581.45" y1="220.16" x2="581.45" y2="222.4" stroke="#a2b62a" stroke-width="0.7" />
<line x1="647.84" y1="235.78" x2="647.84" y2="238.85" stroke="#a2b62a" stroke-width="0.7" />
<line x1="593.2" y1="227.15" x2="593.2" y2="229.72" stroke="#a2b62a" stroke-width="0.7" />
<line x1="570.25" y1="212.78" x2="570.25" y2="213.8" stroke="#a2b62a" stroke-width="0.7" />
<line x1="592.41" y1="226.7" x2="592.41" y2="228.94" stroke="#cc36bc" stroke-width="0.7" />
<line x1="609.21" y1="231.87" x2="609.21" y2="236.35" stroke="#cc36bc" stroke-width="0.7" />
<line x1="603.16" y1="230.57" x2="603.16" y2="235.48" stroke="#cc36bc" stroke-width="0.7" />
<line x1="575.22" y1="216.34" x2="575.22" y2="217.9" stroke="#cc36bc" stroke-width="0.7" />
<line x1="641.74" y1="235.22" x2="641.74" y2="237.78" stroke="#cc36bc" stroke-width="0.7" />
<line x1="627.93" y1="234.01" x2="627.93" y2="236.07" stroke="#a2b62a" stroke-width="0.7" />
<line x1="657.09" y1="236.82" x2="657.09" y2="241.44" stroke="#a2b62a" stroke-width="0.7" />
<line x1="579.29" y1="218.83" x2="579.29" y2="220.2" stroke="#a2b62a" stroke-width="0.7" />
<line x1="641.03" y1="235.16" x2="641.03" y2="238.54" stroke="#a2b62a" stroke-width="0.7" />
<line x1="652.72" y1="236.27" x2="652.72" y2="241.44" stroke="#a2b62a" stroke-width="0.7" />
<line x1="651.54" y1="236.15" x2="651.54" y2="240.59" stroke="#cc36bc" stroke-width="0.7" />
<line x1="631.16" y1="234.3" x2="631.16" y2="239.88" stroke="#cc36bc" stroke-width="0.7" />
<line x1="646.75" y1="235.68" x2="646.75" y2="238.46" stroke="#cc36bc" stroke-width="0.7" />
<line x1="618.57" y1="233.15" x2="618.57" y2="238.12" stroke="#cc36bc" stroke-width="0.7" />
<line x1="650.77" y1="236.08" x2="650.77" y2="240.3" stroke="#a2b62a" stroke-width="0.7" />
<line x1="591.43" y1="226.14" x2="591.43" y2="227.98" stroke="#cc36bc" stroke-width="0.7" />
<line x1="575.35" y1="216.41" x2="575.35" y2="217.8" stroke="#a2b62a" stroke-width="0.7" />
<line x1="614.96" y1="232.73" x2="614.96" y2="236.72" stroke="#cc36bc" stroke-width="0.7" />
<line x1="648.95" y1="235.9" x2="648.95" y2="237.92" stroke="#cc36bc" stroke-width="0.7" />
<line x1="612.82" y1="232.47" x2="612.82" y2="236.72" stroke="#cc36bc" stroke-width="0.7" />
<line x1="646.91" y1="235.69" x2="646.91" y2="239.19" stroke="#cc36bc" stroke-width="0.7" />
<line x1="657.9" y1="236.95" x2="657.9" y2="239.25" stroke="#cc36bc" stroke-width="0.7" />
<line x1="628.21" y1="234.04" x2="628.21" y2="236.15" stroke="#cc36bc" stroke-width="0.7" />
<line x1="632.46" y1="234.41" x2="632.46" y2="240.14" stroke="#a2b62a" stroke-width="0.7" />
<line x1="659.83" y1="237.24" x2="659.83" y2="241.29" stroke="#cc36bc" stroke-width="0.7" />
<line x1="652.13" y1="236.21" x2="652.13" y2="238.35" stroke="#cc36bc" stroke-width="0.7" />
<line x1="627.21" y1="233.95" x2="627.21" y2="237.3" stroke="#cc36bc" stroke-width="0.7" />
<line x1="603.5" y1="230.65" x2="603.5" y2="234.08" stroke="#cc36bc" stroke-width="0.7" />
<line x1="640.51" y1="235.11" x2="640.51" y2="237.95" stroke="#cc36bc" stroke-width="0.7" />
<line x1="608.65" y1="231.77" x2="608.65" y2="235.88" stroke="#cc36bc" stroke-width="0.7" />
<line x1="596.8" y1="228.63" x2="596.8" y2="232.51" stroke="#cc36bc" stroke-width="0.7" />
<line x1="616.09" y1="232.86" x2="616.09" y2="235.95" stroke="#cc36bc" stroke-width="0.7" />
<line x1="659.21" y1="237.15" x2="659.21" y2="241.77" stroke="#cc36bc" stroke-width="0.7" />
<line x1="600.28" y1="229.87" x2="600.28" y2="232.58" stroke="#a2b62a" stroke-width="0.7" />
<line x1="623.66" y1="233.62" x2="623.66" y2="238.16" stroke="#cc36bc" stroke-width="0.7" />
<line x1="573.66" y1="215.24" x2="573.66" y2="216.6" stroke="#cc36bc" stroke-width="0.7" />
<line x1="619.9" y1="233.28" x2="619.9" y2="235.48" stroke="#a2b62a" stroke-width="0.7" />
<line x1="570.57" y1="213.01" x2="570.57" y2="214.03" stroke="#cc36bc" stroke-width="0.7" />
<line x1="625.69" y1="233.81" x2="625.69" y2="238.44" stroke="#cc36bc" stroke-width="0.7" />
<line x1="653.25" y1="236.32" x2="653.25" y2="240.77" stroke="#cc36bc" stroke-width="0.7" />
<line x1="627.35" y1="233.96" x2="627.35" y2="238.75" stroke="#cc36bc" stroke-width="0.7" />
<line x1="632.31" y1="234.4" x2="632.31" y2="237.25" stroke="#cc36bc" stroke-width="0.7" />
<line x1="611.9" y1="232.32" x2="611.9" y2="237.37" stroke="#a2b62a" stroke-width="0.7" />
<line x1="586.59" y1="223.33" x2="586.59" y2="224.81" stroke="#cc36bc" stroke-width="0.7" />
<line x1="653.64" y1="236.36" x2="653.64" y2="240.99" stroke="#a2b62a" stroke-width="0.7" />
<line x1="645.27" y1="235.53" x2="645.27" y2="240.67" stroke="#cc36bc" stroke-width="0.7" />
<line x1="593.61" y1="227.38" x2="593.61" y2="229.68" stroke="#cc36bc" stroke-width="0.7" />
<line x1="599.14" y1="229.48" x2="599.14" y2="232.47" stroke="#cc36bc" stroke-width="0.7" />
<line x1="655.45" y1="236.57" x2="655.45" y2="238.79" stroke="#cc36bc" stroke-width="0.7" />
<line x1="573.6" y1="215.19" x2="573.6" y2="216.33" stroke="#cc36bc" stroke-width="0.7" />
<line x1="622.64" y1="233.53" x2="622.64" y2="239.21" stroke="#cc36bc" stroke-width="0.7" />
<line x1="571.29" y1="213.53" x2="571.29" y2="214.61" stroke="#cc36bc" stroke-width="0.7" />
<line x1="655.8" y1="236.62" x2="655.8" y2="242.55" stroke="#cc36bc" stroke-width="0.7" />
<line x1="607.74" y1="231.62" x2="607.74" y2="233.95" stroke="#cc36bc" stroke-width="0.7" />
<line x1="589.42" y1="225.01" x2="589.42" y2="226.79" stroke="#a2b62a" stroke-width="0.7" />
<line x1="570.44" y1="212.92" x2="570.44" y2="213.96" stroke="#a2b62a" stroke-width="0.7" />
<line x1="658.42" y1="237.03" x2="658.42" y2="239.38" stroke="#cc36bc" stroke-width="0.7" />
<line x1="581.8" y1="220.38" x2="581.8" y2="221.69" stroke="#cc36bc" stroke-width="0.7" />
<line x1="592.17" y1="226.56" x2="592.17" y2="229.74" stroke="#a2b62a" stroke-width="0.7" />
<line x1="574.59" y1="215.9" x2="574.59" y2="217.37" stroke="#cc36bc" stroke-width="0.7" />
<line x1="648.28" y1="235.83" x2="648.28" y2="240.75" stroke="#a2b62a" stroke-width="0.7" />
<line x1="627.52" y1="233.97" x2="627.52" y2="238.81" stroke="#cc36bc" stroke-width="0.7" />
<line x1="655.31" y1="236.55" x2="655.31" y2="239.56" stroke="#cc36bc" stroke-width="0.7" />
<line x1="635.62" y1="234.69" x2="635.62" y2="236.73" stroke="#a2b62a" stroke-width="0.7" />
<line x1="629.54" y1="234.16" x2="629.54" y2="239.43" stroke="#a2b62a" stroke-width="0.7" />
<line x1="598.46" y1="229.24" x2="598.46" y2="233.02" stroke="#a2b62a" stroke-width="0.7" />
<line x1="648.78" y1="235.88" x2="648.78" y2="239.82" stroke="#a2b62a" stroke-width="0.7" />
<line x1="603.63" y1="230.68" x2="603.63" y2="234.46" stroke="#cc36bc" stroke-width="0.7" />
<line x1="631.93" y1="234.37" x2="631.93" y2="236.95" stroke="#cc36bc" stroke-width="0.7" />
<line x1="603.24" y1="230.59" x2="603.24" y2="234.56" stroke="#cc36bc" stroke-width="0.7" />
<line x1="608.24" y1="231.71" x2="608.24" y2="235.14" stroke="#cc36bc" stroke-width="0.7" />
<line x1="656.46" y1="236.72" x2="656.46" y2="241.86" stroke="#cc36bc" stroke-width="0.7" />
<line x1="596.75" y1="228.61" x2="596.75" y2="230.44" stroke="#cc36bc" stroke-width="0.7" />
<line x1="634.35" y1="234.58" x2="634.35" y2="239.89" stroke="#a2b62a" stroke-width="0.7" />
<line x1="625.43" y1="233.78" x2="625.43" y2="239.69" stroke="#cc36bc" stroke-width="0.7" />
<line x1="625" y1="233.75" x2="625" y2="236.98" stroke="#cc36bc" stroke-width="0.7" />
<line x1="651.26" y1="236.13" x2="651.26" y2="239.63" stroke="#cc36bc" stroke-width="0.7" />
<line x1="625.06" y1="233.75" x2="625.06" y2="239.34" stroke="#cc36bc" stroke-width="0.7" />
<line x1="595.92" y1="228.31" x2="595.92" y2="229.96" stroke="#a2b62a" stroke-width="0.7" />
<line x1="608.66" y1="231.78" x2="608.66" y2="236.01" stroke="#cc36bc" stroke-width="0.7" />
<line x1="651.2" y1="236.12" x2="651.2" y2="238.29" stroke="#cc36bc" stroke-width="0.7" />
<line x1="644.28" y1="235.44" x2="644.28" y2="240.91" stroke="#cc36bc" stroke-width="0.7" />
<line x1="595.06" y1="227.99" x2="595.06" y2="231.75" stroke="#cc36bc" stroke-width="0.7" />
<line x1="632.64" y1="234.43" x2="632.64" y2="240.08" stroke="#a2b62a" stroke-width="0.7" />
<line x1="577.78" y1="217.91" x2="577.78" y2="219.54" stroke="#cc36bc" stroke-width="0.7" />
<line x1="588.34" y1="224.39" x2="588.34" y2="227.23" stroke="#cc36bc" stroke-width="0.7" />
<line x1="591.41" y1="226.13" x2="591.41" y2="228.97" stroke="#cc36bc" stroke-width="0.7" />
<line x1="612.58" y1="232.43" x2="612.58" y2="235.26" stroke="#a2b62a" stroke-width="0.7" />
<line x1="638.73" y1="234.96" x2="638.73" y2="240.12" stroke="#cc36bc" stroke-width="0.7" />
<line x1="578.02" y1="218.06" x2="578.02" y2="219.91" stroke="#cc36bc" stroke-width="0.7" />
<line x1="591.31" y1="226.07" x2="591.31" y2="228.84" stroke="#cc36bc" stroke-width="0.7" />
<line x1="650.99" y1="236.1" x2="650.99" y2="240.19" stroke="#cc36bc" stroke-width="0.7" />
<line x1="623.92" y1="233.65" x2="623.92" y2="236.4" stroke="#a2b62a" stroke-width="0.7" />
<line x1="586.53" y1="223.3" x2="586.53" y2="225.87" stroke="#a2b62a" stroke-width="0.7" />
<line x1="621.65" y1="233.44" x2="621.65" y2="237.05" stroke="#cc36bc" stroke-width="0.7" />
<line x1="583.63" y1="221.51" x2="583.63" y2="222.91" stroke="#cc36bc" stroke-width="0.7" />
<line x1="604.22" y1="230.83" x2="604.22" y2="233.04" stroke="#cc36bc" stroke-width="0.7" />
<line x1="642.04" y1="235.24" x2="642.04" y2="237.87" stroke="#cc36bc" stroke-width="0.7" />
<line x1="601.56" y1="230.18" x2="601.56" y2="233.61" stroke="#a2b62a" stroke-width="0.7" />
<line x1="573.07" y1="214.81" x2="573.07" y2="216.19" stroke="#cc36bc" stroke-width="0.7" />
<line x1="614.5" y1="232.67" x2="614.5" y2="236.94" stroke="#a2b62a" stroke-width="0.7" />
<line x1="641.3" y1="235.18" x2="641.3" y2="238.88" stroke="#cc36bc" stroke-width="0.7" />
<line x1="640.2" y1="235.08" x2="640.2" y2="240.36" stroke="#cc36bc" stroke-width="0.7" />
<line x1="593.24" y1="227.17" x2="593.24" y2="228.84" stroke="#a2b62a" stroke-width="0.7" />
<line x1="586.54" y1="223.3" x2="586.54" y2="224.85" stroke="#a2b62a" stroke-width="0.7" />
<line x1="621" y1="233.38" x2="621" y2="238.86" stroke="#cc36bc" stroke-width="0.7" />
<line x1="656.67" y1="236.76" x2="656.67" y2="242.4" stroke="#a2b62a" stroke-width="0.7" />
<line x1="624.72" y1="233.72" x2="624.72" y2="237.31" stroke="#a2b62a" stroke-width="0.7" />
<line x1="657.78" y1="236.93" x2="657.78" y2="239.96" stroke="#cc36bc" stroke-width="0.7" />
<line x1="628.62" y1="234.07" x2="628.62" y2="239.9" stroke="#cc36bc" stroke-width="0.7" />
<line x1="605.97" y1="231.25" x2="605.97" y2="234.76" stroke="#a2b62a" stroke-width="0.7" />
<line x1="658.37" y1="237.02" x2="658.37" y2="242.98" stroke="#a2b62a" stroke-width="0.7" />
<line x1="573.53" y1="215.15" x2="573.53" y2="216.32" stroke="#a2b62a" stroke-width="0.7" />
<line x1="652.6" y1="236.26" x2="652.6" y2="241.88" stroke="#cc36bc" stroke-width="0.7" />
<line x1="574.3" y1="215.7" x2="574.3" y2="217.15" stroke="#cc36bc" stroke-width="0.7" />
<line x1="629.17" y1="234.12" x2="629.17" y2="240.07" stroke="#a2b62a" stroke-width="0.7" />
<line x1="583.25" y1="221.27" x2="583.25" y2="223.6" stroke="#cc36bc" stroke-width="0.7" />
<line x1="631.94" y1="234.37" x2="631.94" y2="237.56" stroke="#cc36bc" stroke-width="0.7" />
<line x1="639.35" y1="235.01" x2="639.35" y2="237.43" stroke="#a2b62a" stroke-width="0.7" />
<line x1="593.52" y1="227.33" x2="593.52" y2="229.21" stroke="#cc36bc" stroke-width="0.7" />
<line x1="585.42" y1="222.61" x2="585.42" y2="224.37" stroke="#a2b62a" stroke-width="0.7" />
<line x1="632" y1="234.37" x2="632" y2="236.42" stroke="#cc36bc" stroke-width="0.7" />
<line x1="587.85" y1="224.11" x2="587.85" y2="225.62" stroke="#cc36bc" stroke-width="0.7" />
<line x1="590.18" y1="225.44" x2="590.18" y2="228.82" stroke="#cc36bc" stroke-width="0.7" />
<line x1="651.32" y1="236.13" x2="651.32" y2="238.69" stroke="#cc36bc" stroke-width="0.7" />
<line x1="578.87" y1="218.58" x2="578.87" y2="220.63" stroke="#cc36bc" stroke-width="0.7" />
<line x1="627.5" y1="233.97" x2="627.5" y2="237.78" stroke="#a2b62a" stroke-width="0.7" />
<line x1="645.31" y1="235.53" x2="645.31" y2="239.44" stroke="#cc36bc" stroke-width="0.7" />
<line x1="583.06" y1="221.16" x2="583.06" y2="222.77" stroke="#a2b62a" stroke-width="0.7" />
<line x1="601.8" y1="230.24" x2="601.8" y2="238.74" stroke="#cc36bc" stroke-width="0.9" />
<line x1="612" y1="232.33" x2="612" y2="239.33" stroke="#cc36bc" stroke-width="0.9" />
<line x1="617.5" y1="233.02" x2="617.5" y2="239.52" stroke="#a2b62a" stroke-width="0.9" />
<line x1="625.5" y1="233.79" x2="625.5" y2="249.79" stroke="#a2b62a" stroke-width="0.9" />
<line x1="633" y1="234.46" x2="633" y2="241.96" stroke="#cc36bc" stroke-width="0.9" />
<line x1="640.5" y1="235.11" x2="640.5" y2="243.11" stroke="#cc36bc" stroke-width="0.9" />
<line x1="646" y1="235.6" x2="646" y2="242.6" stroke="#a2b62a" stroke-width="0.9" />
<line x1="651" y1="236.1" x2="651" y2="243.6" stroke="#cc36bc" stroke-width="0.9" />
<line x1="657.7" y1="236.92" x2="657.7" y2="253.42" stroke="#a2b62a" stroke-width="0.9" />
<line x1="659.5" y1="237.19" x2="659.5" y2="245.19" stroke="#cc36bc" stroke-width="0.9" />
<line x1="592" y1="226.47" x2="592" y2="232.47" stroke="#a2b62a" stroke-width="0.9" />
<line x1="585" y1="222.35" x2="585" y2="227.85" stroke="#cc36bc" stroke-width="0.9" />
<circle cx="570" cy="206.9" r="0.45" fill="#e81818"/>
<circle cx="573.2" cy="207.86" r="0.45" fill="#e81818"/>
<circle cx="576.4" cy="209.14" r="0.45" fill="#e81818"/>
<circle cx="579.6" cy="210.83" r="0.45" fill="#e81818"/>
<circle cx="582.8" cy="212.5" r="0.45" fill="#e81818"/>
<circle cx="586" cy="214.1" r="0.45" fill="#e81818"/>
<circle cx="589.2" cy="215.64" r="0.45" fill="#e81818"/>
<circle cx="592.4" cy="217.08" r="0.45" fill="#e81818"/>
<circle cx="595.6" cy="218.23" r="0.45" fill="#e81818"/>
<circle cx="598.8" cy="219.08" r="0.45" fill="#e81818"/>
<circle cx="602" cy="219.8" r="0.45" fill="#e81818"/>
<circle cx="605.2" cy="220.44" r="0.45" fill="#e81818"/>
<circle cx="608.4" cy="220.99" r="0.45" fill="#e81818"/>
<circle cx="611.6" cy="221.41" r="0.45" fill="#e81818"/>
<circle cx="614.8" cy="221.72" r="0.45" fill="#e81818"/>
<circle cx="618" cy="221.93" r="0.45" fill="#e81818"/>
<circle cx="621.2" cy="222.06" r="0.45" fill="#e81818"/>
<circle cx="624.4" cy="222.15" r="0.45" fill="#e81818"/>
<circle cx="627.6" cy="222.23" r="0.45" fill="#e81818"/>
<circle cx="630.8" cy="222.33" r="0.45" fill="#e81818"/>
<circle cx="634" cy="222.46" r="0.45" fill="#e81818"/>
<circle cx="637.2" cy="222.59" r="0.45" fill="#e81818"/>
<circle cx="640.4" cy="222.72" r="0.45" fill="#e81818"/>
<circle cx="643.6" cy="222.84" r="0.45" fill="#e81818"/>
<circle cx="646.8" cy="222.99" r="0.45" fill="#e81818"/>
<circle cx="650" cy="223.15" r="0.45" fill="#e81818"/>
<circle cx="653.2" cy="223.31" r="0.45" fill="#e81818"/>
<circle cx="656.4" cy="223.44" r="0.45" fill="#e81818"/>
<circle cx="659.6" cy="223.54" r="0.45" fill="#e81818"/>
<text id="lex" x="598.51" y="177.96" font-size="12.34" fill="#1c1c1c" stroke="#1c1c1c" stroke-width="0.22" text-anchor="start" >λ<tspan font-size="8" dy="3.9" fill="#3a3a3a" stroke-width="0.1">Ex</tspan><tspan dy="-3.9">: 443 nm</tspan></text>
<text id="lem" x="599" y="198.97" font-size="12.08" fill="#1c1c1c" stroke="#1c1c1c" stroke-width="0.22" text-anchor="start" >λ<tspan font-size="8" dy="3.9" fill="#3a3a3a" stroke-width="0.1">Em</tspan><tspan dy="-3.9">: 695 nm</tspan></text>
</svg>
</body></html>
